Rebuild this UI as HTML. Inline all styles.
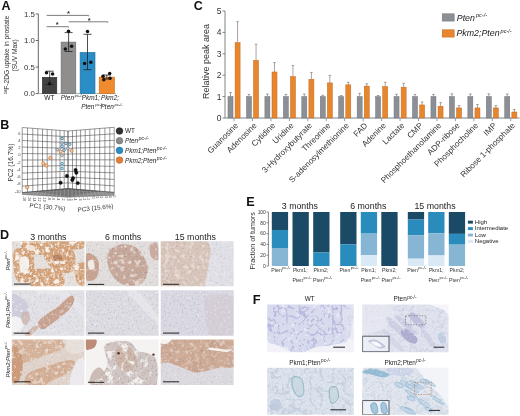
<!DOCTYPE html>
<html><head><meta charset="utf-8"><title>Figure</title>
<style>
html,body{margin:0;padding:0;background:#fff;}
body{width:520px;height:416px;overflow:hidden;}
svg{display:block;font-family:'Liberation Sans', Arial, sans-serif;}
</style></head>
<body>
<svg width="520" height="416" viewBox="0 0 520 416">
<defs>
<filter id="soft" x="-5%" y="-5%" width="110%" height="110%"><feGaussianBlur stdDeviation="0.6"/></filter>
<filter id="holes1" x="0" y="0" width="1" height="1" color-interpolation-filters="sRGB"><feTurbulence type="fractalNoise" baseFrequency="0.22" numOctaves="2" seed="1" result="n"/><feColorMatrix in="n" type="matrix" values="0 0 0 0 0  0 0 0 0 0  0 0 0 0 0  6 0 0 0 -3.6" result="m"/><feComposite in="SourceGraphic" in2="m" operator="in"/></filter>
<filter id="holes2" x="0" y="0" width="1" height="1" color-interpolation-filters="sRGB"><feTurbulence type="fractalNoise" baseFrequency="0.35" numOctaves="2" seed="5" result="n"/><feColorMatrix in="n" type="matrix" values="0 0 0 0 0  0 0 0 0 0  0 0 0 0 0  6 0 0 0 -3.7" result="m"/><feComposite in="SourceGraphic" in2="m" operator="in"/></filter>
<filter id="holes3" x="0" y="0" width="1" height="1" color-interpolation-filters="sRGB"><feTurbulence type="fractalNoise" baseFrequency="0.14" numOctaves="2" seed="9" result="n"/><feColorMatrix in="n" type="matrix" values="0 0 0 0 0  0 0 0 0 0  0 0 0 0 0  6 0 0 0 -3.2" result="m"/><feComposite in="SourceGraphic" in2="m" operator="in"/></filter>
<filter id="spk1" x="0" y="0" width="1" height="1" color-interpolation-filters="sRGB"><feTurbulence type="fractalNoise" baseFrequency="0.75" numOctaves="1" seed="4" result="n"/><feColorMatrix in="n" type="matrix" values="0 0 0 0 0  0 0 0 0 0  0 0 0 0 0  8 0 0 0 -5.1" result="m"/><feComposite in="SourceGraphic" in2="m" operator="in"/></filter>
<filter id="spk2" x="0" y="0" width="1" height="1" color-interpolation-filters="sRGB"><feTurbulence type="fractalNoise" baseFrequency="0.5" numOctaves="2" seed="12" result="n"/><feColorMatrix in="n" type="matrix" values="0 0 0 0 0  0 0 0 0 0  0 0 0 0 0  5 0 0 0 -2.8" result="m"/><feComposite in="SourceGraphic" in2="m" operator="in"/></filter>
<filter id="mot1" x="0" y="0" width="1" height="1" color-interpolation-filters="sRGB"><feTurbulence type="fractalNoise" baseFrequency="0.12" numOctaves="3" seed="3" result="n"/><feColorMatrix in="n" type="matrix" values="0 0 0 0 0  0 0 0 0 0  0 0 0 0 0  3 0 0 0 -1.2" result="m"/><feComposite in="SourceGraphic" in2="m" operator="in"/></filter>
<filter id="fib1" x="0" y="0" width="1" height="1" color-interpolation-filters="sRGB"><feTurbulence type="turbulence" baseFrequency="0.06 0.25" numOctaves="2" seed="6" result="n"/><feColorMatrix in="n" type="matrix" values="0 0 0 0 0  0 0 0 0 0  0 0 0 0 0  -8 0 0 0 1.6" result="m"/><feComposite in="SourceGraphic" in2="m" operator="in"/></filter>
<filter id="net1" x="0" y="0" width="1" height="1" color-interpolation-filters="sRGB"><feTurbulence type="turbulence" baseFrequency="0.12" numOctaves="2" seed="8" result="n"/><feColorMatrix in="n" type="matrix" values="0 0 0 0 0  0 0 0 0 0  0 0 0 0 0  -10 0 0 0 1.8" result="m"/><feComposite in="SourceGraphic" in2="m" operator="in"/></filter>
<filter id="net2" x="0" y="0" width="1" height="1" color-interpolation-filters="sRGB"><feTurbulence type="turbulence" baseFrequency="0.09" numOctaves="2" seed="14" result="n"/><feColorMatrix in="n" type="matrix" values="0 0 0 0 0  0 0 0 0 0  0 0 0 0 0  -9 0 0 0 1.6" result="m"/><feComposite in="SourceGraphic" in2="m" operator="in"/></filter>
<filter id="net3" x="0" y="0" width="1" height="1" color-interpolation-filters="sRGB"><feTurbulence type="turbulence" baseFrequency="0.16" numOctaves="2" seed="21" result="n"/><feColorMatrix in="n" type="matrix" values="0 0 0 0 0  0 0 0 0 0  0 0 0 0 0  -10 0 0 0 1.9" result="m"/><feComposite in="SourceGraphic" in2="m" operator="in"/></filter>
<filter id="holes4" x="0" y="0" width="1" height="1" color-interpolation-filters="sRGB"><feTurbulence type="fractalNoise" baseFrequency="0.2" numOctaves="2" seed="17" result="n"/><feColorMatrix in="n" type="matrix" values="0 0 0 0 0  0 0 0 0 0  0 0 0 0 0  6 0 0 0 -3.3" result="m"/><feComposite in="SourceGraphic" in2="m" operator="in"/></filter>
<filter id="holes5" x="0" y="0" width="1" height="1" color-interpolation-filters="sRGB"><feTurbulence type="fractalNoise" baseFrequency="0.45" numOctaves="2" seed="23" result="n"/><feColorMatrix in="n" type="matrix" values="0 0 0 0 0  0 0 0 0 0  0 0 0 0 0  7 0 0 0 -3.8" result="m"/><feComposite in="SourceGraphic" in2="m" operator="in"/></filter>
</defs>
<rect width="520" height="416" fill="#fff"/>
<text x="1.50" y="9.80" font-size="12.5" font-weight="bold" fill="#111">A</text>
<line x1="38.30" y1="13.95" x2="38.30" y2="93.60" stroke="#555" stroke-width="0.9"/>
<line x1="35.70" y1="13.95" x2="38.30" y2="13.95" stroke="#555" stroke-width="0.9"/>
<text x="34.80" y="16.75" font-size="7.8" text-anchor="end" fill="#333">1.5</text>
<line x1="35.70" y1="40.50" x2="38.30" y2="40.50" stroke="#555" stroke-width="0.9"/>
<text x="34.80" y="43.30" font-size="7.8" text-anchor="end" fill="#333">1.0</text>
<line x1="35.70" y1="67.05" x2="38.30" y2="67.05" stroke="#555" stroke-width="0.9"/>
<text x="34.80" y="69.85" font-size="7.8" text-anchor="end" fill="#333">0.5</text>
<line x1="35.70" y1="93.60" x2="38.30" y2="93.60" stroke="#555" stroke-width="0.9"/>
<text x="34.80" y="96.40" font-size="7.8" text-anchor="end" fill="#333">0.0</text>
<line x1="38.30" y1="93.60" x2="116.00" y2="93.60" stroke="#9aa" stroke-width="0.9"/>
<text transform="translate(9.2,55) rotate(-90)" font-size="6.6" text-anchor="middle" fill="#333"><tspan font-size="4.2" dy="-2">18</tspan><tspan dy="2">F-2DG uptake in prostate</tspan></text>
<text transform="translate(17.4,55.4) rotate(-90)" font-size="6.6" text-anchor="middle" fill="#333">(SUV Max)</text>
<rect x="42.30" y="77.30" width="14.50" height="16.30" fill="#424242" stroke="#2a2a2a" stroke-width="0.6"/>
<rect x="61.10" y="42.09" width="14.70" height="51.51" fill="#8e8e8e" stroke="#6a6a6a" stroke-width="0.6"/>
<rect x="80.10" y="52.39" width="14.90" height="41.21" fill="#2b8dc5" stroke="#1f6f9e" stroke-width="0.6"/>
<rect x="99.20" y="77.14" width="15.20" height="16.46" fill="#ef8a2e" stroke="#c96c1c" stroke-width="0.6"/>
<line x1="49.70" y1="71.20" x2="49.70" y2="84.50" stroke="#222" stroke-width="0.8"/>
<line x1="45.70" y1="71.20" x2="53.70" y2="71.20" stroke="#222" stroke-width="0.8"/>
<line x1="45.70" y1="84.50" x2="53.70" y2="84.50" stroke="#222" stroke-width="0.8"/>
<line x1="68.60" y1="32.60" x2="68.60" y2="51.50" stroke="#222" stroke-width="0.8"/>
<line x1="64.60" y1="32.60" x2="72.60" y2="32.60" stroke="#222" stroke-width="0.8"/>
<line x1="64.60" y1="51.50" x2="72.60" y2="51.50" stroke="#222" stroke-width="0.8"/>
<line x1="87.50" y1="34.30" x2="87.50" y2="69.70" stroke="#222" stroke-width="0.8"/>
<line x1="83.50" y1="34.30" x2="91.50" y2="34.30" stroke="#222" stroke-width="0.8"/>
<line x1="83.50" y1="69.70" x2="91.50" y2="69.70" stroke="#222" stroke-width="0.8"/>
<line x1="106.80" y1="75.00" x2="106.80" y2="79.00" stroke="#222" stroke-width="0.8"/>
<line x1="102.80" y1="75.00" x2="110.80" y2="75.00" stroke="#222" stroke-width="0.8"/>
<line x1="102.80" y1="79.00" x2="110.80" y2="79.00" stroke="#222" stroke-width="0.8"/>
<circle cx="46.50" cy="72.80" r="1.75" fill="#111"/>
<circle cx="52.60" cy="74.00" r="1.75" fill="#111"/>
<circle cx="49.50" cy="83.80" r="1.75" fill="#111"/>
<circle cx="68.50" cy="31.20" r="1.75" fill="#111"/>
<circle cx="71.60" cy="46.20" r="1.75" fill="#111"/>
<circle cx="65.30" cy="49.00" r="1.75" fill="#111"/>
<circle cx="87.50" cy="31.50" r="1.75" fill="#111"/>
<circle cx="84.60" cy="63.50" r="1.75" fill="#111"/>
<circle cx="90.80" cy="62.30" r="1.75" fill="#111"/>
<circle cx="103.00" cy="76.20" r="1.75" fill="#111"/>
<circle cx="109.70" cy="73.50" r="1.75" fill="#111"/>
<circle cx="103.80" cy="79.70" r="1.75" fill="#111"/>
<circle cx="110.00" cy="78.20" r="1.75" fill="#111"/>
<line x1="46.60" y1="15.40" x2="88.60" y2="15.40" stroke="#666" stroke-width="0.85"/>
<line x1="88.60" y1="15.40" x2="88.60" y2="16.40" stroke="#666" stroke-width="0.7"/>
<text x="68.50" y="16.40" font-size="7.5" text-anchor="middle" font-weight="bold" fill="#333">*</text>
<line x1="68.60" y1="21.80" x2="107.80" y2="21.80" stroke="#666" stroke-width="0.85"/>
<line x1="107.80" y1="21.80" x2="107.80" y2="22.80" stroke="#666" stroke-width="0.7"/>
<text x="89.10" y="22.70" font-size="7.5" text-anchor="middle" font-weight="bold" fill="#333">*</text>
<line x1="46.60" y1="26.70" x2="68.40" y2="26.70" stroke="#666" stroke-width="0.85"/>
<line x1="68.40" y1="26.70" x2="68.40" y2="27.70" stroke="#666" stroke-width="0.7"/>
<text x="57.30" y="27.20" font-size="7.5" text-anchor="middle" font-weight="bold" fill="#333">*</text>
<text x="49.30" y="99.80" font-size="6.6" text-anchor="middle" fill="#222">WT</text>
<text x="60.80" y="99.80" font-size="6.4" font-style="italic" fill="#222">Pten<tspan dy="-3.0" dx="0.8" font-size="4.0">pc-/-</tspan></text>
<text x="81.80" y="99.80" font-size="6.4" font-style="italic" fill="#222">Pkm1;</text>
<text x="100.90" y="99.80" font-size="6.4" font-style="italic" fill="#222">Pkm2;</text>
<text x="81.20" y="109.00" font-size="6.4" font-style="italic" fill="#222">Pten<tspan dy="-3.0" dx="0.8" font-size="4.0">pc-/-</tspan></text>
<text x="100.60" y="109.00" font-size="6.4" font-style="italic" fill="#222">Pten<tspan dy="-3.0" dx="0.8" font-size="4.0">pc-/-</tspan></text>
<text x="0.30" y="128.60" font-size="12.5" font-weight="bold" fill="#111">B</text>
<polygon points="22.2,192.6 68.0,188.6 114.2,192.4 114.2,195.2 68.0,197.2 22.2,194.4" fill="#858585" stroke="#555" stroke-width="0.4"/>
<polygon points="34.2,191.55196506550217 68.0,188.6 100.2,191.24848484848485 68.0,196.6" fill="#5e5e5e" opacity="0.7"/>
<line x1="27.71" y1="192.47" x2="24.35" y2="194.43" stroke="#c4c4c4" stroke-width="0.35"/>
<line x1="31.39" y1="192.13" x2="28.34" y2="194.67" stroke="#c4c4c4" stroke-width="0.35"/>
<line x1="35.07" y1="191.80" x2="32.33" y2="194.90" stroke="#c4c4c4" stroke-width="0.35"/>
<line x1="38.75" y1="191.46" x2="36.31" y2="195.14" stroke="#c4c4c4" stroke-width="0.35"/>
<line x1="42.43" y1="191.13" x2="40.30" y2="195.37" stroke="#c4c4c4" stroke-width="0.35"/>
<line x1="46.11" y1="190.79" x2="44.29" y2="195.61" stroke="#c4c4c4" stroke-width="0.35"/>
<line x1="49.79" y1="190.46" x2="48.27" y2="195.84" stroke="#c4c4c4" stroke-width="0.35"/>
<line x1="53.47" y1="190.12" x2="52.26" y2="196.07" stroke="#c4c4c4" stroke-width="0.35"/>
<line x1="57.15" y1="189.79" x2="56.25" y2="196.31" stroke="#c4c4c4" stroke-width="0.35"/>
<line x1="60.83" y1="189.45" x2="60.23" y2="196.54" stroke="#c4c4c4" stroke-width="0.35"/>
<line x1="64.51" y1="189.12" x2="64.22" y2="196.78" stroke="#c4c4c4" stroke-width="0.35"/>
<line x1="68.19" y1="188.82" x2="68.21" y2="196.99" stroke="#c4c4c4" stroke-width="0.35"/>
<line x1="71.87" y1="189.13" x2="72.19" y2="196.83" stroke="#c4c4c4" stroke-width="0.35"/>
<line x1="75.55" y1="189.45" x2="76.18" y2="196.66" stroke="#c4c4c4" stroke-width="0.35"/>
<line x1="79.23" y1="189.76" x2="80.17" y2="196.49" stroke="#c4c4c4" stroke-width="0.35"/>
<line x1="82.91" y1="190.08" x2="84.15" y2="196.33" stroke="#c4c4c4" stroke-width="0.35"/>
<line x1="86.59" y1="190.39" x2="88.14" y2="196.16" stroke="#c4c4c4" stroke-width="0.35"/>
<line x1="90.27" y1="190.71" x2="92.13" y2="196.00" stroke="#c4c4c4" stroke-width="0.35"/>
<line x1="93.95" y1="191.02" x2="96.11" y2="195.83" stroke="#c4c4c4" stroke-width="0.35"/>
<line x1="97.63" y1="191.34" x2="100.10" y2="195.66" stroke="#c4c4c4" stroke-width="0.35"/>
<line x1="101.31" y1="191.65" x2="104.09" y2="195.50" stroke="#c4c4c4" stroke-width="0.35"/>
<line x1="104.99" y1="191.97" x2="108.07" y2="195.33" stroke="#c4c4c4" stroke-width="0.35"/>
<line x1="108.67" y1="192.28" x2="112.06" y2="195.17" stroke="#c4c4c4" stroke-width="0.35"/>
<polyline points="22.2,193.05 68.0,190.75 114.2,193.10" fill="none" stroke="#a8a8a8" stroke-width="0.35"/>
<polyline points="22.2,193.50 68.0,192.90 114.2,193.80" fill="none" stroke="#a8a8a8" stroke-width="0.35"/>
<polyline points="22.2,193.95 68.0,195.05 114.2,194.50" fill="none" stroke="#a8a8a8" stroke-width="0.35"/>
<line x1="22.20" y1="127.50" x2="22.20" y2="192.60" stroke="#444" stroke-width="0.55"/>
<line x1="27.50" y1="127.91" x2="27.50" y2="192.14" stroke="#444" stroke-width="0.55"/>
<line x1="32.80" y1="128.31" x2="32.80" y2="191.67" stroke="#444" stroke-width="0.55"/>
<line x1="37.80" y1="128.69" x2="37.80" y2="191.24" stroke="#444" stroke-width="0.55"/>
<line x1="42.50" y1="129.05" x2="42.50" y2="190.83" stroke="#444" stroke-width="0.55"/>
<line x1="47.20" y1="129.41" x2="47.20" y2="190.42" stroke="#444" stroke-width="0.55"/>
<line x1="51.80" y1="129.76" x2="51.80" y2="190.01" stroke="#444" stroke-width="0.55"/>
<line x1="56.00" y1="130.08" x2="56.00" y2="189.65" stroke="#444" stroke-width="0.55"/>
<line x1="60.00" y1="130.39" x2="60.00" y2="189.30" stroke="#444" stroke-width="0.55"/>
<line x1="64.20" y1="130.71" x2="64.20" y2="188.93" stroke="#444" stroke-width="0.55"/>
<line x1="68.00" y1="131.00" x2="68.00" y2="188.60" stroke="#444" stroke-width="0.55"/>
<line x1="22.20" y1="127.50" x2="68.00" y2="131.00" stroke="#444" stroke-width="0.55"/>
<line x1="22.20" y1="134.01" x2="68.00" y2="136.76" stroke="#444" stroke-width="0.55"/>
<line x1="22.20" y1="140.52" x2="68.00" y2="142.52" stroke="#444" stroke-width="0.55"/>
<line x1="22.20" y1="147.03" x2="68.00" y2="148.28" stroke="#444" stroke-width="0.55"/>
<line x1="22.20" y1="153.54" x2="68.00" y2="154.04" stroke="#444" stroke-width="0.55"/>
<line x1="22.20" y1="160.05" x2="68.00" y2="159.80" stroke="#444" stroke-width="0.55"/>
<line x1="22.20" y1="166.56" x2="68.00" y2="165.56" stroke="#444" stroke-width="0.55"/>
<line x1="22.20" y1="173.07" x2="68.00" y2="171.32" stroke="#444" stroke-width="0.55"/>
<line x1="22.20" y1="179.58" x2="68.00" y2="177.08" stroke="#444" stroke-width="0.55"/>
<line x1="22.20" y1="186.09" x2="68.00" y2="182.84" stroke="#444" stroke-width="0.55"/>
<line x1="22.20" y1="192.60" x2="68.00" y2="188.60" stroke="#444" stroke-width="0.55"/>
<line x1="68.00" y1="131.00" x2="68.00" y2="188.60" stroke="#444" stroke-width="0.55"/>
<line x1="72.50" y1="130.64" x2="72.50" y2="188.97" stroke="#444" stroke-width="0.55"/>
<line x1="76.40" y1="130.33" x2="76.40" y2="189.29" stroke="#444" stroke-width="0.55"/>
<line x1="80.60" y1="129.99" x2="80.60" y2="189.64" stroke="#444" stroke-width="0.55"/>
<line x1="85.20" y1="129.62" x2="85.20" y2="190.01" stroke="#444" stroke-width="0.55"/>
<line x1="89.80" y1="129.25" x2="89.80" y2="190.39" stroke="#444" stroke-width="0.55"/>
<line x1="94.70" y1="128.86" x2="94.70" y2="190.80" stroke="#444" stroke-width="0.55"/>
<line x1="99.70" y1="128.46" x2="99.70" y2="191.21" stroke="#444" stroke-width="0.55"/>
<line x1="104.90" y1="128.04" x2="104.90" y2="191.64" stroke="#444" stroke-width="0.55"/>
<line x1="109.80" y1="127.65" x2="109.80" y2="192.04" stroke="#444" stroke-width="0.55"/>
<line x1="114.20" y1="127.30" x2="114.20" y2="192.40" stroke="#444" stroke-width="0.55"/>
<line x1="68.00" y1="131.00" x2="114.20" y2="127.30" stroke="#444" stroke-width="0.55"/>
<line x1="68.00" y1="136.76" x2="114.20" y2="133.81" stroke="#444" stroke-width="0.55"/>
<line x1="68.00" y1="142.52" x2="114.20" y2="140.32" stroke="#444" stroke-width="0.55"/>
<line x1="68.00" y1="148.28" x2="114.20" y2="146.83" stroke="#444" stroke-width="0.55"/>
<line x1="68.00" y1="154.04" x2="114.20" y2="153.34" stroke="#444" stroke-width="0.55"/>
<line x1="68.00" y1="159.80" x2="114.20" y2="159.85" stroke="#444" stroke-width="0.55"/>
<line x1="68.00" y1="165.56" x2="114.20" y2="166.36" stroke="#444" stroke-width="0.55"/>
<line x1="68.00" y1="171.32" x2="114.20" y2="172.87" stroke="#444" stroke-width="0.55"/>
<line x1="68.00" y1="177.08" x2="114.20" y2="179.38" stroke="#444" stroke-width="0.55"/>
<line x1="68.00" y1="182.84" x2="114.20" y2="185.89" stroke="#444" stroke-width="0.55"/>
<line x1="68.00" y1="188.60" x2="114.20" y2="192.40" stroke="#444" stroke-width="0.55"/>
<text x="20.60" y="134.50" font-size="4.1" text-anchor="end" fill="#444">6</text>
<text x="20.60" y="141.75" font-size="4.1" text-anchor="end" fill="#444">4</text>
<text x="20.60" y="149.00" font-size="4.1" text-anchor="end" fill="#444">2</text>
<text x="20.60" y="156.25" font-size="4.1" text-anchor="end" fill="#444">0</text>
<text x="20.60" y="163.50" font-size="4.1" text-anchor="end" fill="#444">-2</text>
<text x="20.60" y="170.75" font-size="4.1" text-anchor="end" fill="#444">-4</text>
<text x="20.60" y="178.00" font-size="4.1" text-anchor="end" fill="#444">-6</text>
<text x="20.60" y="185.25" font-size="4.1" text-anchor="end" fill="#444">-8</text>
<text x="20.60" y="192.50" font-size="4.1" text-anchor="end" fill="#444">-10</text>
<text transform="translate(13.0,162.5) rotate(-90)" font-size="6.6" text-anchor="middle" fill="#333">PC2 (16.7%)</text>
<text transform="translate(23.20,195.80) rotate(90)" font-size="3.6" fill="#333">-18</text>
<text transform="translate(28.07,196.00) rotate(90)" font-size="3.6" fill="#333">-16</text>
<text transform="translate(32.93,196.20) rotate(90)" font-size="3.6" fill="#333">-14</text>
<text transform="translate(37.80,196.40) rotate(90)" font-size="3.6" fill="#333">-12</text>
<text transform="translate(42.67,196.60) rotate(90)" font-size="3.6" fill="#333">-10</text>
<text transform="translate(47.53,196.80) rotate(90)" font-size="3.6" fill="#333">-8</text>
<text transform="translate(52.40,197.00) rotate(90)" font-size="3.6" fill="#333">-6</text>
<text transform="translate(57.27,197.20) rotate(90)" font-size="3.6" fill="#333">-4</text>
<text transform="translate(62.13,197.40) rotate(90)" font-size="3.6" fill="#333">-2</text>
<text transform="translate(67.00,197.60) rotate(90)" font-size="3.6" fill="#333">-0</text>
<text transform="translate(70.00,197.60) rotate(90)" font-size="3.6" fill="#333">-5</text>
<text transform="translate(74.32,197.40) rotate(90)" font-size="3.6" fill="#333">-4</text>
<text transform="translate(78.64,197.20) rotate(90)" font-size="3.6" fill="#333">-3</text>
<text transform="translate(82.96,197.00) rotate(90)" font-size="3.6" fill="#333">-2</text>
<text transform="translate(87.28,196.80) rotate(90)" font-size="3.6" fill="#333">-1</text>
<text transform="translate(91.60,196.60) rotate(90)" font-size="3.6" fill="#333">0</text>
<text transform="translate(95.92,196.40) rotate(90)" font-size="3.6" fill="#333">1</text>
<text transform="translate(100.24,196.20) rotate(90)" font-size="3.6" fill="#333">2</text>
<text transform="translate(104.56,196.00) rotate(90)" font-size="3.6" fill="#333">3</text>
<text transform="translate(108.88,195.80) rotate(90)" font-size="3.6" fill="#333">4</text>
<text transform="translate(113.20,195.60) rotate(90)" font-size="3.6" fill="#333">5</text>
<text x="29.4" y="209.0" font-size="6.3" fill="#333" transform="rotate(5 47 207)">PC1 (30.7%)</text>
<text x="77.4" y="210.2" font-size="6.3" fill="#333" transform="rotate(-6 94 207)">PC3 (15.6%)</text>
<circle cx="75.60" cy="170.00" r="1.70" fill="#111" stroke="#000" stroke-width="0.4"/>
<circle cx="76.30" cy="172.80" r="1.70" fill="#111" stroke="#000" stroke-width="0.4"/>
<circle cx="66.90" cy="176.00" r="1.70" fill="#111" stroke="#000" stroke-width="0.4"/>
<circle cx="73.10" cy="178.10" r="1.70" fill="#111" stroke="#000" stroke-width="0.4"/>
<circle cx="72.30" cy="180.00" r="1.70" fill="#111" stroke="#000" stroke-width="0.4"/>
<circle cx="60.60" cy="182.80" r="1.70" fill="#111" stroke="#000" stroke-width="0.4"/>
<circle cx="77.80" cy="183.10" r="1.70" fill="#111" stroke="#000" stroke-width="0.4"/>
<circle cx="62.00" cy="138.50" r="1.35" fill="#cfe0e8" stroke="#1e6e80" stroke-width="0.8"/>
<circle cx="62.00" cy="143.00" r="1.35" fill="#cfe0e8" stroke="#6f7f96" stroke-width="0.8"/>
<circle cx="65.90" cy="143.50" r="1.35" fill="#cfe0e8" stroke="#49708f" stroke-width="0.8"/>
<circle cx="69.70" cy="144.20" r="1.35" fill="#cfe0e8" stroke="#49708f" stroke-width="0.8"/>
<circle cx="57.20" cy="149.70" r="1.35" fill="#cfe0e8" stroke="#6a7a90" stroke-width="0.8"/>
<circle cx="64.00" cy="150.20" r="1.35" fill="#cfe0e8" stroke="#40708f" stroke-width="0.8"/>
<circle cx="67.80" cy="148.30" r="1.35" fill="#cfe0e8" stroke="#5c7088" stroke-width="0.8"/>
<circle cx="62.00" cy="155.50" r="1.35" fill="#cfe0e8" stroke="#8a8a80" stroke-width="0.8"/>
<circle cx="62.00" cy="163.60" r="1.35" fill="#cfe0e8" stroke="#2f86b3" stroke-width="0.8"/>
<circle cx="62.00" cy="168.50" r="1.35" fill="#cfe0e8" stroke="#2f86b3" stroke-width="0.8"/>
<circle cx="62.00" cy="146.30" r="1.35" fill="#cfe0e8" stroke="#3a7ca8" stroke-width="0.8"/>
<circle cx="71.60" cy="150.70" r="1.60" fill="#f3d3b3" stroke="#c86f2a" stroke-width="0.8"/>
<circle cx="60.60" cy="151.60" r="1.60" fill="#f3d3b3" stroke="#c86f2a" stroke-width="0.8"/>
<circle cx="50.40" cy="157.80" r="1.60" fill="#f3d3b3" stroke="#c86f2a" stroke-width="0.8"/>
<circle cx="43.30" cy="163.40" r="1.60" fill="#f3d3b3" stroke="#c86f2a" stroke-width="0.8"/>
<circle cx="46.30" cy="165.50" r="1.60" fill="#f3d3b3" stroke="#c86f2a" stroke-width="0.8"/>
<circle cx="27.10" cy="187.30" r="1.60" fill="#f3d3b3" stroke="#c86f2a" stroke-width="0.8"/>
<circle cx="119.50" cy="131.00" r="3.30" fill="#333" stroke="#111" stroke-width="0.6"/>
<text x="125.00" y="133.40" font-size="6.4" fill="#222">WT</text>
<circle cx="119.50" cy="140.70" r="3.30" fill="#8a8a8a" stroke="#666" stroke-width="0.6"/>
<text x="125.00" y="143.10" font-size="6.4" fill="#222"><tspan font-style="italic">Pten</tspan><tspan font-size="5.0" dy="-2.8" dx="0.6" font-style="italic">pc-/-</tspan></text>
<circle cx="119.50" cy="150.40" r="3.30" fill="#2b8dc5" stroke="#1d6a96" stroke-width="0.6"/>
<text x="125.00" y="152.80" font-size="6.4" fill="#222"><tspan font-style="italic">Pkm1;Pten</tspan><tspan font-size="5.0" dy="-2.8" dx="0.6" font-style="italic">pc-/-</tspan></text>
<circle cx="119.50" cy="160.10" r="3.30" fill="#e0803a" stroke="#b86020" stroke-width="0.6"/>
<text x="125.00" y="162.50" font-size="6.4" fill="#222"><tspan font-style="italic">Pkm2;Pten</tspan><tspan font-size="5.0" dy="-2.8" dx="0.6" font-style="italic">pc-/-</tspan></text>
<text x="193.80" y="10.00" font-size="12.5" font-weight="bold" fill="#111">C</text>
<line x1="225.00" y1="11.00" x2="225.00" y2="118.00" stroke="#666" stroke-width="0.8"/>
<line x1="225.00" y1="118.00" x2="519.50" y2="118.00" stroke="#7a8490" stroke-width="1.0"/>
<line x1="222.50" y1="118.00" x2="225.00" y2="118.00" stroke="#666" stroke-width="0.8"/>
<text x="221.40" y="121.00" font-size="8.5" text-anchor="end" fill="#333">0</text>
<line x1="222.50" y1="96.60" x2="225.00" y2="96.60" stroke="#666" stroke-width="0.8"/>
<text x="221.40" y="99.60" font-size="8.5" text-anchor="end" fill="#333">1</text>
<line x1="222.50" y1="75.20" x2="225.00" y2="75.20" stroke="#666" stroke-width="0.8"/>
<text x="221.40" y="78.20" font-size="8.5" text-anchor="end" fill="#333">2</text>
<line x1="222.50" y1="53.80" x2="225.00" y2="53.80" stroke="#666" stroke-width="0.8"/>
<text x="221.40" y="56.80" font-size="8.5" text-anchor="end" fill="#333">3</text>
<line x1="222.50" y1="32.40" x2="225.00" y2="32.40" stroke="#666" stroke-width="0.8"/>
<text x="221.40" y="35.40" font-size="8.5" text-anchor="end" fill="#333">4</text>
<line x1="222.50" y1="11.00" x2="225.00" y2="11.00" stroke="#666" stroke-width="0.8"/>
<text x="221.40" y="14.00" font-size="8.5" text-anchor="end" fill="#333">5</text>
<text transform="translate(208.7,61.6) rotate(-90)" font-size="9" text-anchor="middle" fill="#333">Relative peak area</text>
<line x1="230.50" y1="92.53" x2="230.50" y2="96.60" stroke="#7a7a7a" stroke-width="0.7"/>
<line x1="229.20" y1="92.53" x2="231.80" y2="92.53" stroke="#7a7a7a" stroke-width="0.7"/>
<line x1="237.60" y1="21.70" x2="237.60" y2="42.67" stroke="#8a7a70" stroke-width="0.7"/>
<line x1="236.30" y1="21.70" x2="238.90" y2="21.70" stroke="#8a7a70" stroke-width="0.7"/>
<rect x="228.00" y="96.60" width="5.00" height="21.40" fill="#8c9096" stroke="#6e7278" stroke-width="0.5"/>
<rect x="235.10" y="42.67" width="5.00" height="75.33" fill="#e8862e" stroke="#c0681e" stroke-width="0.5"/>
<line x1="234.00" y1="118.00" x2="234.00" y2="121.20" stroke="#7a8490" stroke-width="0.8"/>
<text transform="translate(238.80,126.00) rotate(-45)" font-size="8.2" text-anchor="end" fill="#333">Guanosine</text>
<line x1="248.95" y1="94.46" x2="248.95" y2="96.60" stroke="#7a7a7a" stroke-width="0.7"/>
<line x1="247.65" y1="94.46" x2="250.25" y2="94.46" stroke="#7a7a7a" stroke-width="0.7"/>
<line x1="256.05" y1="44.17" x2="256.05" y2="60.43" stroke="#8a7a70" stroke-width="0.7"/>
<line x1="254.75" y1="44.17" x2="257.35" y2="44.17" stroke="#8a7a70" stroke-width="0.7"/>
<rect x="246.45" y="96.60" width="5.00" height="21.40" fill="#8c9096" stroke="#6e7278" stroke-width="0.5"/>
<rect x="253.55" y="60.43" width="5.00" height="57.57" fill="#e8862e" stroke="#c0681e" stroke-width="0.5"/>
<line x1="252.45" y1="118.00" x2="252.45" y2="121.20" stroke="#7a8490" stroke-width="0.8"/>
<text transform="translate(257.25,126.00) rotate(-45)" font-size="8.2" text-anchor="end" fill="#333">Adenosine</text>
<line x1="267.40" y1="94.03" x2="267.40" y2="96.60" stroke="#7a7a7a" stroke-width="0.7"/>
<line x1="266.10" y1="94.03" x2="268.70" y2="94.03" stroke="#7a7a7a" stroke-width="0.7"/>
<line x1="274.50" y1="62.57" x2="274.50" y2="71.99" stroke="#8a7a70" stroke-width="0.7"/>
<line x1="273.20" y1="62.57" x2="275.80" y2="62.57" stroke="#8a7a70" stroke-width="0.7"/>
<rect x="264.90" y="96.60" width="5.00" height="21.40" fill="#8c9096" stroke="#6e7278" stroke-width="0.5"/>
<rect x="272.00" y="71.99" width="5.00" height="46.01" fill="#e8862e" stroke="#c0681e" stroke-width="0.5"/>
<line x1="270.90" y1="118.00" x2="270.90" y2="121.20" stroke="#7a8490" stroke-width="0.8"/>
<text transform="translate(275.70,126.00) rotate(-45)" font-size="8.2" text-anchor="end" fill="#333">Cytidine</text>
<line x1="285.85" y1="94.46" x2="285.85" y2="96.60" stroke="#7a7a7a" stroke-width="0.7"/>
<line x1="284.55" y1="94.46" x2="287.15" y2="94.46" stroke="#7a7a7a" stroke-width="0.7"/>
<line x1="292.95" y1="65.57" x2="292.95" y2="76.70" stroke="#8a7a70" stroke-width="0.7"/>
<line x1="291.65" y1="65.57" x2="294.25" y2="65.57" stroke="#8a7a70" stroke-width="0.7"/>
<rect x="283.35" y="96.60" width="5.00" height="21.40" fill="#8c9096" stroke="#6e7278" stroke-width="0.5"/>
<rect x="290.45" y="76.70" width="5.00" height="41.30" fill="#e8862e" stroke="#c0681e" stroke-width="0.5"/>
<line x1="289.35" y1="118.00" x2="289.35" y2="121.20" stroke="#7a8490" stroke-width="0.8"/>
<text transform="translate(294.15,126.00) rotate(-45)" font-size="8.2" text-anchor="end" fill="#333">Uridine</text>
<line x1="304.30" y1="94.03" x2="304.30" y2="96.60" stroke="#7a7a7a" stroke-width="0.7"/>
<line x1="303.00" y1="94.03" x2="305.60" y2="94.03" stroke="#7a7a7a" stroke-width="0.7"/>
<line x1="311.40" y1="72.42" x2="311.40" y2="79.27" stroke="#8a7a70" stroke-width="0.7"/>
<line x1="310.10" y1="72.42" x2="312.70" y2="72.42" stroke="#8a7a70" stroke-width="0.7"/>
<rect x="301.80" y="96.60" width="5.00" height="21.40" fill="#8c9096" stroke="#6e7278" stroke-width="0.5"/>
<rect x="308.90" y="79.27" width="5.00" height="38.73" fill="#e8862e" stroke="#c0681e" stroke-width="0.5"/>
<line x1="307.80" y1="118.00" x2="307.80" y2="121.20" stroke="#7a8490" stroke-width="0.8"/>
<text transform="translate(312.60,126.00) rotate(-45)" font-size="8.2" text-anchor="end" fill="#333">3-Hydroxybutyrate</text>
<line x1="322.75" y1="95.32" x2="322.75" y2="96.60" stroke="#7a7a7a" stroke-width="0.7"/>
<line x1="321.45" y1="95.32" x2="324.05" y2="95.32" stroke="#7a7a7a" stroke-width="0.7"/>
<line x1="329.85" y1="75.41" x2="329.85" y2="82.90" stroke="#8a7a70" stroke-width="0.7"/>
<line x1="328.55" y1="75.41" x2="331.15" y2="75.41" stroke="#8a7a70" stroke-width="0.7"/>
<rect x="320.25" y="96.60" width="5.00" height="21.40" fill="#8c9096" stroke="#6e7278" stroke-width="0.5"/>
<rect x="327.35" y="82.90" width="5.00" height="35.10" fill="#e8862e" stroke="#c0681e" stroke-width="0.5"/>
<line x1="326.25" y1="118.00" x2="326.25" y2="121.20" stroke="#7a8490" stroke-width="0.8"/>
<text transform="translate(331.05,126.00) rotate(-45)" font-size="8.2" text-anchor="end" fill="#333">Threonine</text>
<line x1="341.20" y1="95.53" x2="341.20" y2="96.60" stroke="#7a7a7a" stroke-width="0.7"/>
<line x1="339.90" y1="95.53" x2="342.50" y2="95.53" stroke="#7a7a7a" stroke-width="0.7"/>
<line x1="348.30" y1="82.26" x2="348.30" y2="84.83" stroke="#8a7a70" stroke-width="0.7"/>
<line x1="347.00" y1="82.26" x2="349.60" y2="82.26" stroke="#8a7a70" stroke-width="0.7"/>
<rect x="338.70" y="96.60" width="5.00" height="21.40" fill="#8c9096" stroke="#6e7278" stroke-width="0.5"/>
<rect x="345.80" y="84.83" width="5.00" height="33.17" fill="#e8862e" stroke="#c0681e" stroke-width="0.5"/>
<line x1="344.70" y1="118.00" x2="344.70" y2="121.20" stroke="#7a8490" stroke-width="0.8"/>
<text transform="translate(349.50,126.00) rotate(-45)" font-size="8.2" text-anchor="end" fill="#333">S-adenosylmethionine</text>
<line x1="359.65" y1="93.39" x2="359.65" y2="96.60" stroke="#7a7a7a" stroke-width="0.7"/>
<line x1="358.35" y1="93.39" x2="360.95" y2="93.39" stroke="#7a7a7a" stroke-width="0.7"/>
<line x1="366.75" y1="83.76" x2="366.75" y2="86.11" stroke="#8a7a70" stroke-width="0.7"/>
<line x1="365.45" y1="83.76" x2="368.05" y2="83.76" stroke="#8a7a70" stroke-width="0.7"/>
<rect x="357.15" y="96.60" width="5.00" height="21.40" fill="#8c9096" stroke="#6e7278" stroke-width="0.5"/>
<rect x="364.25" y="86.11" width="5.00" height="31.89" fill="#e8862e" stroke="#c0681e" stroke-width="0.5"/>
<line x1="363.15" y1="118.00" x2="363.15" y2="121.20" stroke="#7a8490" stroke-width="0.8"/>
<text transform="translate(367.95,126.00) rotate(-45)" font-size="8.2" text-anchor="end" fill="#333">FAD</text>
<line x1="378.10" y1="95.53" x2="378.10" y2="96.60" stroke="#7a7a7a" stroke-width="0.7"/>
<line x1="376.80" y1="95.53" x2="379.40" y2="95.53" stroke="#7a7a7a" stroke-width="0.7"/>
<line x1="385.20" y1="82.26" x2="385.20" y2="86.54" stroke="#8a7a70" stroke-width="0.7"/>
<line x1="383.90" y1="82.26" x2="386.50" y2="82.26" stroke="#8a7a70" stroke-width="0.7"/>
<rect x="375.60" y="96.60" width="5.00" height="21.40" fill="#8c9096" stroke="#6e7278" stroke-width="0.5"/>
<rect x="382.70" y="86.54" width="5.00" height="31.46" fill="#e8862e" stroke="#c0681e" stroke-width="0.5"/>
<line x1="381.60" y1="118.00" x2="381.60" y2="121.20" stroke="#7a8490" stroke-width="0.8"/>
<text transform="translate(386.40,126.00) rotate(-45)" font-size="8.2" text-anchor="end" fill="#333">Adenine</text>
<line x1="396.55" y1="94.25" x2="396.55" y2="96.60" stroke="#7a7a7a" stroke-width="0.7"/>
<line x1="395.25" y1="94.25" x2="397.85" y2="94.25" stroke="#7a7a7a" stroke-width="0.7"/>
<line x1="403.65" y1="83.33" x2="403.65" y2="87.18" stroke="#8a7a70" stroke-width="0.7"/>
<line x1="402.35" y1="83.33" x2="404.95" y2="83.33" stroke="#8a7a70" stroke-width="0.7"/>
<rect x="394.05" y="96.60" width="5.00" height="21.40" fill="#8c9096" stroke="#6e7278" stroke-width="0.5"/>
<rect x="401.15" y="87.18" width="5.00" height="30.82" fill="#e8862e" stroke="#c0681e" stroke-width="0.5"/>
<line x1="400.05" y1="118.00" x2="400.05" y2="121.20" stroke="#7a8490" stroke-width="0.8"/>
<text transform="translate(404.85,126.00) rotate(-45)" font-size="8.2" text-anchor="end" fill="#333">Lactate</text>
<line x1="415.00" y1="94.46" x2="415.00" y2="96.60" stroke="#7a7a7a" stroke-width="0.7"/>
<line x1="413.70" y1="94.46" x2="416.30" y2="94.46" stroke="#7a7a7a" stroke-width="0.7"/>
<line x1="422.10" y1="101.95" x2="422.10" y2="104.95" stroke="#8a7a70" stroke-width="0.7"/>
<line x1="420.80" y1="101.95" x2="423.40" y2="101.95" stroke="#8a7a70" stroke-width="0.7"/>
<rect x="412.50" y="96.60" width="5.00" height="21.40" fill="#8c9096" stroke="#6e7278" stroke-width="0.5"/>
<rect x="419.60" y="104.95" width="5.00" height="13.05" fill="#e8862e" stroke="#c0681e" stroke-width="0.5"/>
<line x1="418.50" y1="118.00" x2="418.50" y2="121.20" stroke="#7a8490" stroke-width="0.8"/>
<text transform="translate(423.30,126.00) rotate(-45)" font-size="8.2" text-anchor="end" fill="#333">CMP</text>
<line x1="433.45" y1="94.46" x2="433.45" y2="96.60" stroke="#7a7a7a" stroke-width="0.7"/>
<line x1="432.15" y1="94.46" x2="434.75" y2="94.46" stroke="#7a7a7a" stroke-width="0.7"/>
<line x1="440.55" y1="102.59" x2="440.55" y2="106.23" stroke="#8a7a70" stroke-width="0.7"/>
<line x1="439.25" y1="102.59" x2="441.85" y2="102.59" stroke="#8a7a70" stroke-width="0.7"/>
<rect x="430.95" y="96.60" width="5.00" height="21.40" fill="#8c9096" stroke="#6e7278" stroke-width="0.5"/>
<rect x="438.05" y="106.23" width="5.00" height="11.77" fill="#e8862e" stroke="#c0681e" stroke-width="0.5"/>
<line x1="436.95" y1="118.00" x2="436.95" y2="121.20" stroke="#7a8490" stroke-width="0.8"/>
<text transform="translate(441.75,126.00) rotate(-45)" font-size="8.2" text-anchor="end" fill="#333">Phosphoethanolamine</text>
<line x1="451.90" y1="93.82" x2="451.90" y2="96.60" stroke="#7a7a7a" stroke-width="0.7"/>
<line x1="450.60" y1="93.82" x2="453.20" y2="93.82" stroke="#7a7a7a" stroke-width="0.7"/>
<line x1="459.00" y1="105.59" x2="459.00" y2="107.94" stroke="#8a7a70" stroke-width="0.7"/>
<line x1="457.70" y1="105.59" x2="460.30" y2="105.59" stroke="#8a7a70" stroke-width="0.7"/>
<rect x="449.40" y="96.60" width="5.00" height="21.40" fill="#8c9096" stroke="#6e7278" stroke-width="0.5"/>
<rect x="456.50" y="107.94" width="5.00" height="10.06" fill="#e8862e" stroke="#c0681e" stroke-width="0.5"/>
<line x1="455.40" y1="118.00" x2="455.40" y2="121.20" stroke="#7a8490" stroke-width="0.8"/>
<text transform="translate(460.20,126.00) rotate(-45)" font-size="8.2" text-anchor="end" fill="#333">ADP-ribose</text>
<line x1="470.35" y1="94.03" x2="470.35" y2="96.60" stroke="#7a7a7a" stroke-width="0.7"/>
<line x1="469.05" y1="94.03" x2="471.65" y2="94.03" stroke="#7a7a7a" stroke-width="0.7"/>
<line x1="477.45" y1="104.52" x2="477.45" y2="107.94" stroke="#8a7a70" stroke-width="0.7"/>
<line x1="476.15" y1="104.52" x2="478.75" y2="104.52" stroke="#8a7a70" stroke-width="0.7"/>
<rect x="467.85" y="96.60" width="5.00" height="21.40" fill="#8c9096" stroke="#6e7278" stroke-width="0.5"/>
<rect x="474.95" y="107.94" width="5.00" height="10.06" fill="#e8862e" stroke="#c0681e" stroke-width="0.5"/>
<line x1="473.85" y1="118.00" x2="473.85" y2="121.20" stroke="#7a8490" stroke-width="0.8"/>
<text transform="translate(478.65,126.00) rotate(-45)" font-size="8.2" text-anchor="end" fill="#333">Phosphocholine</text>
<line x1="488.80" y1="93.82" x2="488.80" y2="96.60" stroke="#7a7a7a" stroke-width="0.7"/>
<line x1="487.50" y1="93.82" x2="490.10" y2="93.82" stroke="#7a7a7a" stroke-width="0.7"/>
<line x1="495.90" y1="105.59" x2="495.90" y2="107.94" stroke="#8a7a70" stroke-width="0.7"/>
<line x1="494.60" y1="105.59" x2="497.20" y2="105.59" stroke="#8a7a70" stroke-width="0.7"/>
<rect x="486.30" y="96.60" width="5.00" height="21.40" fill="#8c9096" stroke="#6e7278" stroke-width="0.5"/>
<rect x="493.40" y="107.94" width="5.00" height="10.06" fill="#e8862e" stroke="#c0681e" stroke-width="0.5"/>
<line x1="492.30" y1="118.00" x2="492.30" y2="121.20" stroke="#7a8490" stroke-width="0.8"/>
<text transform="translate(497.10,126.00) rotate(-45)" font-size="8.2" text-anchor="end" fill="#333">IMP</text>
<line x1="507.25" y1="94.03" x2="507.25" y2="96.60" stroke="#7a7a7a" stroke-width="0.7"/>
<line x1="505.95" y1="94.03" x2="508.55" y2="94.03" stroke="#7a7a7a" stroke-width="0.7"/>
<line x1="514.35" y1="109.44" x2="514.35" y2="112.01" stroke="#8a7a70" stroke-width="0.7"/>
<line x1="513.05" y1="109.44" x2="515.65" y2="109.44" stroke="#8a7a70" stroke-width="0.7"/>
<rect x="504.75" y="96.60" width="5.00" height="21.40" fill="#8c9096" stroke="#6e7278" stroke-width="0.5"/>
<rect x="511.85" y="112.01" width="5.00" height="5.99" fill="#e8862e" stroke="#c0681e" stroke-width="0.5"/>
<line x1="510.75" y1="118.00" x2="510.75" y2="121.20" stroke="#7a8490" stroke-width="0.8"/>
<text transform="translate(515.55,126.00) rotate(-45)" font-size="8.2" text-anchor="end" fill="#333">Ribose 1-phosphate</text>
<rect x="442.20" y="13.80" width="12.00" height="7.30" fill="#8c9096" stroke="#6e7278" stroke-width="0.5"/>
<rect x="442.20" y="29.80" width="12.00" height="7.30" fill="#e8862e" stroke="#c0681e" stroke-width="0.5"/>
<text x="456.80" y="20.50" font-size="8.8" font-style="italic" fill="#222">Pten<tspan dy="-3.6" dx="1.0" font-size="5.6">pc-/-</tspan></text>
<text x="456.50" y="36.10" font-size="8.8" font-style="italic" fill="#222">Pkm2;Pten<tspan dy="-3.6" dx="1.0" font-size="5.6">pc-/-</tspan></text>
<text x="246.30" y="205.70" font-size="12.6" font-weight="bold" fill="#111">E</text>
<line x1="268.40" y1="212.00" x2="268.40" y2="266.00" stroke="#555" stroke-width="0.7"/>
<line x1="266.60" y1="266.00" x2="268.40" y2="266.00" stroke="#555" stroke-width="0.7"/>
<text x="265.80" y="267.75" font-size="4.9" text-anchor="end" fill="#333">0</text>
<line x1="266.60" y1="255.20" x2="268.40" y2="255.20" stroke="#555" stroke-width="0.7"/>
<text x="265.80" y="256.95" font-size="4.9" text-anchor="end" fill="#333">20</text>
<line x1="266.60" y1="244.40" x2="268.40" y2="244.40" stroke="#555" stroke-width="0.7"/>
<text x="265.80" y="246.15" font-size="4.9" text-anchor="end" fill="#333">40</text>
<line x1="266.60" y1="233.60" x2="268.40" y2="233.60" stroke="#555" stroke-width="0.7"/>
<text x="265.80" y="235.35" font-size="4.9" text-anchor="end" fill="#333">60</text>
<line x1="266.60" y1="222.80" x2="268.40" y2="222.80" stroke="#555" stroke-width="0.7"/>
<text x="265.80" y="224.55" font-size="4.9" text-anchor="end" fill="#333">80</text>
<line x1="266.60" y1="212.00" x2="268.40" y2="212.00" stroke="#555" stroke-width="0.7"/>
<text x="265.80" y="213.75" font-size="4.9" text-anchor="end" fill="#333">100</text>
<text transform="translate(254.9,240.8) rotate(-90)" font-size="7.1" text-anchor="middle" fill="#333">Fraction of tumors</text>
<rect x="271.80" y="212.00" width="16.30" height="17.98" fill="#1a4a66"/>
<rect x="271.80" y="229.98" width="16.30" height="18.04" fill="#2a8bbd"/>
<rect x="271.80" y="248.02" width="16.30" height="17.98" fill="#86b6d4"/>
<rect x="292.50" y="212.00" width="16.30" height="54.00" fill="#1a4a66"/>
<rect x="313.20" y="212.00" width="16.30" height="40.50" fill="#1a4a66"/>
<rect x="313.20" y="252.50" width="16.30" height="13.50" fill="#2a8bbd"/>
<rect x="340.20" y="212.00" width="16.30" height="32.40" fill="#1a4a66"/>
<rect x="340.20" y="244.40" width="16.30" height="21.60" fill="#2a8bbd"/>
<rect x="360.80" y="212.00" width="16.30" height="21.60" fill="#2a8bbd"/>
<rect x="360.80" y="233.60" width="16.30" height="21.60" fill="#86b6d4"/>
<rect x="360.80" y="255.20" width="16.30" height="10.80" fill="#d9eaf6"/>
<rect x="381.30" y="212.00" width="16.30" height="54.00" fill="#1a4a66"/>
<rect x="407.80" y="212.00" width="16.30" height="7.56" fill="#1a4a66"/>
<rect x="407.80" y="219.56" width="16.30" height="15.66" fill="#2a8bbd"/>
<rect x="407.80" y="235.22" width="16.30" height="23.49" fill="#86b6d4"/>
<rect x="407.80" y="258.71" width="16.30" height="7.29" fill="#d9eaf6"/>
<rect x="428.20" y="212.00" width="16.30" height="21.33" fill="#2a8bbd"/>
<rect x="428.20" y="233.33" width="16.30" height="22.14" fill="#86b6d4"/>
<rect x="428.20" y="255.47" width="16.30" height="10.53" fill="#d9eaf6"/>
<rect x="448.80" y="212.00" width="16.30" height="21.87" fill="#1a4a66"/>
<rect x="448.80" y="233.87" width="16.30" height="10.80" fill="#2a8bbd"/>
<rect x="448.80" y="244.67" width="16.30" height="21.33" fill="#86b6d4"/>
<text x="299.90" y="208.80" font-size="8.8" text-anchor="middle" fill="#222">3 months</text>
<text x="368.30" y="208.80" font-size="8.8" text-anchor="middle" fill="#222">6 months</text>
<text x="435.00" y="208.80" font-size="8.8" text-anchor="middle" fill="#222">15 months</text>
<text x="271.20" y="272.20" font-size="5.2" fill="#333">Pten<tspan dy="-3.0" dx="0.4" font-size="4.0">pc-/-</tspan></text>
<text x="292.90" y="272.20" font-size="5.2" fill="#333">Pkm1;</text>
<text x="292.40" y="281.50" font-size="5.2" fill="#333">Pten<tspan dy="-3.0" dx="0.4" font-size="4.0">pc-/-</tspan></text>
<text x="313.60" y="272.20" font-size="5.2" fill="#333">Pkm2;</text>
<text x="313.10" y="281.50" font-size="5.2" fill="#333">Pten<tspan dy="-3.0" dx="0.4" font-size="4.0">pc-/-</tspan></text>
<text x="339.60" y="272.20" font-size="5.2" fill="#333">Pten<tspan dy="-3.0" dx="0.4" font-size="4.0">pc-/-</tspan></text>
<text x="361.30" y="272.20" font-size="5.2" fill="#333">Pkm1;</text>
<text x="360.80" y="281.50" font-size="5.2" fill="#333">Pten<tspan dy="-3.0" dx="0.4" font-size="4.0">pc-/-</tspan></text>
<text x="382.00" y="272.20" font-size="5.2" fill="#333">Pkm2;</text>
<text x="381.50" y="281.50" font-size="5.2" fill="#333">Pten<tspan dy="-3.0" dx="0.4" font-size="4.0">pc-/-</tspan></text>
<text x="407.20" y="272.20" font-size="5.2" fill="#333">Pten<tspan dy="-3.0" dx="0.4" font-size="4.0">pc-/-</tspan></text>
<text x="428.90" y="272.20" font-size="5.2" fill="#333">Pkm1;</text>
<text x="428.40" y="281.50" font-size="5.2" fill="#333">Pten<tspan dy="-3.0" dx="0.4" font-size="4.0">pc-/-</tspan></text>
<text x="449.60" y="272.20" font-size="5.2" fill="#333">Pkm2;</text>
<text x="449.10" y="281.50" font-size="5.2" fill="#333">Pten<tspan dy="-3.0" dx="0.4" font-size="4.0">pc-/-</tspan></text>
<rect x="467.90" y="220.70" width="5.00" height="2.90" fill="#1a4a66"/>
<text x="474.80" y="224.00" font-size="6.0" fill="#222">High</text>
<rect x="467.90" y="227.15" width="5.00" height="2.90" fill="#2a8bbd"/>
<text x="474.80" y="230.45" font-size="6.0" fill="#222">Intermediate</text>
<rect x="467.90" y="233.60" width="5.00" height="2.90" fill="#86b6d4"/>
<text x="474.80" y="236.90" font-size="6.0" fill="#222">Low</text>
<rect x="467.90" y="240.05" width="5.00" height="2.90" fill="#d9eaf6"/>
<text x="474.80" y="243.35" font-size="6.0" fill="#222">Negative</text>
<text x="0.10" y="238.50" font-size="12.6" font-weight="bold" fill="#111">D</text>
<text x="48.40" y="239.60" font-size="8.8" text-anchor="middle" fill="#222">3 months</text>
<text x="123.10" y="239.60" font-size="8.8" text-anchor="middle" fill="#222">6 months</text>
<text x="195.40" y="239.60" font-size="8.8" text-anchor="middle" fill="#222">15 months</text>
<text transform="translate(9.6,260.8) rotate(-90)" font-size="5.8" font-style="italic" text-anchor="middle" fill="#222">Pten<tspan dy="-2.4" font-size="3.8">pc-/-</tspan></text>
<text transform="translate(9.6,310.0) rotate(-90)" font-size="5.8" font-style="italic" text-anchor="middle" fill="#222">Pkm1;Pten<tspan dy="-2.4" font-size="3.8">pc-/-</tspan></text>
<text transform="translate(9.6,359.4) rotate(-90)" font-size="5.8" font-style="italic" text-anchor="middle" fill="#222">Pkm2;Pten<tspan dy="-2.4" font-size="3.8">pc-/-</tspan></text>
<clipPath id="c11"><rect x="11.8" y="241.3" width="72.7" height="45.0"/></clipPath>
<g clip-path="url(#c11)"><g filter="url(#soft)">
<rect x="10.80" y="240.30" width="74.70" height="47.00" fill="#e6e2e0"/>
<rect x="11.80" y="241.30" width="72.70" height="45.00" fill="#c8c0c0" filter="url(#spk2)" opacity="0.5"/>
<path d="M22.0,240.4 C26.2,238.9 43.5,238.8 48.2,240.4 C52.8,242.1 50.6,247.9 49.6,250.3 C48.6,252.7 45.5,254.2 42.3,254.8 C39.2,255.4 34.0,254.8 30.7,253.9 C27.4,253.0 24.2,251.7 22.7,249.4 C21.3,247.2 17.7,241.9 22.0,240.4Z" fill="#d5a57e"/>
<path d="M14.0,251.2 C15.9,246.9 23.2,248.4 26.3,249.0 C29.5,249.6 31.6,252.0 32.9,254.8 C34.2,257.7 34.6,261.9 34.3,266.1 C34.1,270.2 33.6,276.7 31.4,279.6 C29.2,282.4 24.0,283.9 21.3,283.2 C18.5,282.4 15.9,280.4 14.7,275.1 C13.5,269.7 12.0,255.6 14.0,251.2Z" fill="#d5a57e"/>
<path d="M45.2,250.3 C48.4,248.5 58.0,245.7 62.7,245.8 C67.4,246.0 71.5,247.8 73.6,251.2 C75.7,254.6 75.7,262.4 75.0,266.1 C74.4,269.7 73.2,272.0 70.0,272.8 C66.7,273.6 59.1,272.5 55.4,271.0 C51.8,269.5 50.1,266.2 48.2,263.8 C46.2,261.4 44.3,258.9 43.8,256.6 C43.3,254.4 42.1,252.1 45.2,250.3Z" fill="#d5a57e"/>
<path d="M32.2,270.1 C35.3,268.2 43.3,268.0 48.2,268.3 C53.0,268.6 58.6,269.3 61.2,271.9 C63.9,274.5 65.7,281.3 64.1,284.1 C62.6,286.8 56.9,287.8 51.8,288.6 C46.7,289.3 37.4,290.1 33.6,288.6 C29.9,287.1 29.5,282.6 29.2,279.6 C29.0,276.5 29.0,272.0 32.2,270.1Z" fill="#d5a57e"/>
<path d="M52.5,239.1 C57.0,237.6 77.2,237.6 82.3,239.1 C87.4,240.6 85.1,246.3 83.0,248.1 C81.0,249.8 74.6,249.5 70.0,249.4 C65.4,249.3 58.3,249.3 55.4,247.6 C52.5,245.9 48.0,240.5 52.5,239.1Z" fill="#d5a57e"/>
<path d="M75.0,266.1 C76.5,262.9 84.1,260.8 86.0,263.8 C87.8,266.8 87.4,280.9 86.0,284.1 C84.5,287.2 79.0,285.7 77.2,282.7 C75.4,279.7 73.6,269.2 75.0,266.1Z" fill="#d5a57e"/>
<clipPath id="tp1"><path d="M22.0,240.4 C26.2,238.9 43.5,238.8 48.2,240.4 C52.8,242.1 50.6,247.9 49.6,250.3 C48.6,252.7 45.5,254.2 42.3,254.8 C39.2,255.4 34.0,254.8 30.7,253.9 C27.4,253.0 24.2,251.7 22.7,249.4 C21.3,247.2 17.7,241.9 22.0,240.4Z"/></clipPath>
<g clip-path="url(#tp1)">
<rect x="11.80" y="241.30" width="72.70" height="45.00" fill="#b47a52" filter="url(#spk2)" opacity="0.5"/>
</g>
<clipPath id="tp2"><path d="M22.0,240.4 C26.2,238.9 43.5,238.8 48.2,240.4 C52.8,242.1 50.6,247.9 49.6,250.3 C48.6,252.7 45.5,254.2 42.3,254.8 C39.2,255.4 34.0,254.8 30.7,253.9 C27.4,253.0 24.2,251.7 22.7,249.4 C21.3,247.2 17.7,241.9 22.0,240.4Z"/></clipPath>
<g clip-path="url(#tp2)">
<rect x="11.80" y="241.30" width="72.70" height="45.00" fill="#fbf6f2" filter="url(#holes4)" opacity="0.95"/>
</g>
<clipPath id="tp3"><path d="M22.0,240.4 C26.2,238.9 43.5,238.8 48.2,240.4 C52.8,242.1 50.6,247.9 49.6,250.3 C48.6,252.7 45.5,254.2 42.3,254.8 C39.2,255.4 34.0,254.8 30.7,253.9 C27.4,253.0 24.2,251.7 22.7,249.4 C21.3,247.2 17.7,241.9 22.0,240.4Z"/></clipPath>
<g clip-path="url(#tp3)">
<rect x="11.80" y="241.30" width="72.70" height="45.00" fill="#f8f2ec" filter="url(#holes5)" opacity="0.6"/>
</g>
<clipPath id="tp4"><path d="M14.0,251.2 C15.9,246.9 23.2,248.4 26.3,249.0 C29.5,249.6 31.6,252.0 32.9,254.8 C34.2,257.7 34.6,261.9 34.3,266.1 C34.1,270.2 33.6,276.7 31.4,279.6 C29.2,282.4 24.0,283.9 21.3,283.2 C18.5,282.4 15.9,280.4 14.7,275.1 C13.5,269.7 12.0,255.6 14.0,251.2Z"/></clipPath>
<g clip-path="url(#tp4)">
<rect x="11.80" y="241.30" width="72.70" height="45.00" fill="#b47a52" filter="url(#spk2)" opacity="0.5"/>
</g>
<clipPath id="tp5"><path d="M14.0,251.2 C15.9,246.9 23.2,248.4 26.3,249.0 C29.5,249.6 31.6,252.0 32.9,254.8 C34.2,257.7 34.6,261.9 34.3,266.1 C34.1,270.2 33.6,276.7 31.4,279.6 C29.2,282.4 24.0,283.9 21.3,283.2 C18.5,282.4 15.9,280.4 14.7,275.1 C13.5,269.7 12.0,255.6 14.0,251.2Z"/></clipPath>
<g clip-path="url(#tp5)">
<rect x="11.80" y="241.30" width="72.70" height="45.00" fill="#fbf6f2" filter="url(#holes4)" opacity="0.95"/>
</g>
<clipPath id="tp6"><path d="M14.0,251.2 C15.9,246.9 23.2,248.4 26.3,249.0 C29.5,249.6 31.6,252.0 32.9,254.8 C34.2,257.7 34.6,261.9 34.3,266.1 C34.1,270.2 33.6,276.7 31.4,279.6 C29.2,282.4 24.0,283.9 21.3,283.2 C18.5,282.4 15.9,280.4 14.7,275.1 C13.5,269.7 12.0,255.6 14.0,251.2Z"/></clipPath>
<g clip-path="url(#tp6)">
<rect x="11.80" y="241.30" width="72.70" height="45.00" fill="#f8f2ec" filter="url(#holes5)" opacity="0.6"/>
</g>
<clipPath id="tp7"><path d="M45.2,250.3 C48.4,248.5 58.0,245.7 62.7,245.8 C67.4,246.0 71.5,247.8 73.6,251.2 C75.7,254.6 75.7,262.4 75.0,266.1 C74.4,269.7 73.2,272.0 70.0,272.8 C66.7,273.6 59.1,272.5 55.4,271.0 C51.8,269.5 50.1,266.2 48.2,263.8 C46.2,261.4 44.3,258.9 43.8,256.6 C43.3,254.4 42.1,252.1 45.2,250.3Z"/></clipPath>
<g clip-path="url(#tp7)">
<rect x="11.80" y="241.30" width="72.70" height="45.00" fill="#b47a52" filter="url(#spk2)" opacity="0.5"/>
</g>
<clipPath id="tp8"><path d="M45.2,250.3 C48.4,248.5 58.0,245.7 62.7,245.8 C67.4,246.0 71.5,247.8 73.6,251.2 C75.7,254.6 75.7,262.4 75.0,266.1 C74.4,269.7 73.2,272.0 70.0,272.8 C66.7,273.6 59.1,272.5 55.4,271.0 C51.8,269.5 50.1,266.2 48.2,263.8 C46.2,261.4 44.3,258.9 43.8,256.6 C43.3,254.4 42.1,252.1 45.2,250.3Z"/></clipPath>
<g clip-path="url(#tp8)">
<rect x="11.80" y="241.30" width="72.70" height="45.00" fill="#fbf6f2" filter="url(#holes4)" opacity="0.95"/>
</g>
<clipPath id="tp9"><path d="M45.2,250.3 C48.4,248.5 58.0,245.7 62.7,245.8 C67.4,246.0 71.5,247.8 73.6,251.2 C75.7,254.6 75.7,262.4 75.0,266.1 C74.4,269.7 73.2,272.0 70.0,272.8 C66.7,273.6 59.1,272.5 55.4,271.0 C51.8,269.5 50.1,266.2 48.2,263.8 C46.2,261.4 44.3,258.9 43.8,256.6 C43.3,254.4 42.1,252.1 45.2,250.3Z"/></clipPath>
<g clip-path="url(#tp9)">
<rect x="11.80" y="241.30" width="72.70" height="45.00" fill="#f8f2ec" filter="url(#holes5)" opacity="0.6"/>
</g>
<clipPath id="tp10"><path d="M32.2,270.1 C35.3,268.2 43.3,268.0 48.2,268.3 C53.0,268.6 58.6,269.3 61.2,271.9 C63.9,274.5 65.7,281.3 64.1,284.1 C62.6,286.8 56.9,287.8 51.8,288.6 C46.7,289.3 37.4,290.1 33.6,288.6 C29.9,287.1 29.5,282.6 29.2,279.6 C29.0,276.5 29.0,272.0 32.2,270.1Z"/></clipPath>
<g clip-path="url(#tp10)">
<rect x="11.80" y="241.30" width="72.70" height="45.00" fill="#b47a52" filter="url(#spk2)" opacity="0.5"/>
</g>
<clipPath id="tp11"><path d="M32.2,270.1 C35.3,268.2 43.3,268.0 48.2,268.3 C53.0,268.6 58.6,269.3 61.2,271.9 C63.9,274.5 65.7,281.3 64.1,284.1 C62.6,286.8 56.9,287.8 51.8,288.6 C46.7,289.3 37.4,290.1 33.6,288.6 C29.9,287.1 29.5,282.6 29.2,279.6 C29.0,276.5 29.0,272.0 32.2,270.1Z"/></clipPath>
<g clip-path="url(#tp11)">
<rect x="11.80" y="241.30" width="72.70" height="45.00" fill="#fbf6f2" filter="url(#holes4)" opacity="0.95"/>
</g>
<clipPath id="tp12"><path d="M32.2,270.1 C35.3,268.2 43.3,268.0 48.2,268.3 C53.0,268.6 58.6,269.3 61.2,271.9 C63.9,274.5 65.7,281.3 64.1,284.1 C62.6,286.8 56.9,287.8 51.8,288.6 C46.7,289.3 37.4,290.1 33.6,288.6 C29.9,287.1 29.5,282.6 29.2,279.6 C29.0,276.5 29.0,272.0 32.2,270.1Z"/></clipPath>
<g clip-path="url(#tp12)">
<rect x="11.80" y="241.30" width="72.70" height="45.00" fill="#f8f2ec" filter="url(#holes5)" opacity="0.6"/>
</g>
<clipPath id="tp13"><path d="M52.5,239.1 C57.0,237.6 77.2,237.6 82.3,239.1 C87.4,240.6 85.1,246.3 83.0,248.1 C81.0,249.8 74.6,249.5 70.0,249.4 C65.4,249.3 58.3,249.3 55.4,247.6 C52.5,245.9 48.0,240.5 52.5,239.1Z"/></clipPath>
<g clip-path="url(#tp13)">
<rect x="11.80" y="241.30" width="72.70" height="45.00" fill="#b47a52" filter="url(#spk2)" opacity="0.5"/>
</g>
<clipPath id="tp14"><path d="M52.5,239.1 C57.0,237.6 77.2,237.6 82.3,239.1 C87.4,240.6 85.1,246.3 83.0,248.1 C81.0,249.8 74.6,249.5 70.0,249.4 C65.4,249.3 58.3,249.3 55.4,247.6 C52.5,245.9 48.0,240.5 52.5,239.1Z"/></clipPath>
<g clip-path="url(#tp14)">
<rect x="11.80" y="241.30" width="72.70" height="45.00" fill="#fbf6f2" filter="url(#holes4)" opacity="0.95"/>
</g>
<clipPath id="tp15"><path d="M52.5,239.1 C57.0,237.6 77.2,237.6 82.3,239.1 C87.4,240.6 85.1,246.3 83.0,248.1 C81.0,249.8 74.6,249.5 70.0,249.4 C65.4,249.3 58.3,249.3 55.4,247.6 C52.5,245.9 48.0,240.5 52.5,239.1Z"/></clipPath>
<g clip-path="url(#tp15)">
<rect x="11.80" y="241.30" width="72.70" height="45.00" fill="#f8f2ec" filter="url(#holes5)" opacity="0.6"/>
</g>
<clipPath id="tp16"><path d="M75.0,266.1 C76.5,262.9 84.1,260.8 86.0,263.8 C87.8,266.8 87.4,280.9 86.0,284.1 C84.5,287.2 79.0,285.7 77.2,282.7 C75.4,279.7 73.6,269.2 75.0,266.1Z"/></clipPath>
<g clip-path="url(#tp16)">
<rect x="11.80" y="241.30" width="72.70" height="45.00" fill="#b47a52" filter="url(#spk2)" opacity="0.5"/>
</g>
<clipPath id="tp17"><path d="M75.0,266.1 C76.5,262.9 84.1,260.8 86.0,263.8 C87.8,266.8 87.4,280.9 86.0,284.1 C84.5,287.2 79.0,285.7 77.2,282.7 C75.4,279.7 73.6,269.2 75.0,266.1Z"/></clipPath>
<g clip-path="url(#tp17)">
<rect x="11.80" y="241.30" width="72.70" height="45.00" fill="#fbf6f2" filter="url(#holes4)" opacity="0.95"/>
</g>
<clipPath id="tp18"><path d="M75.0,266.1 C76.5,262.9 84.1,260.8 86.0,263.8 C87.8,266.8 87.4,280.9 86.0,284.1 C84.5,287.2 79.0,285.7 77.2,282.7 C75.4,279.7 73.6,269.2 75.0,266.1Z"/></clipPath>
<g clip-path="url(#tp18)">
<rect x="11.80" y="241.30" width="72.70" height="45.00" fill="#f8f2ec" filter="url(#holes5)" opacity="0.6"/>
</g>
<path d="M19.8,258.4 C20.8,256.2 24.8,255.7 26.3,256.6 C27.9,257.5 29.2,261.0 29.2,263.8 C29.2,266.6 27.8,272.6 26.3,273.7 C24.9,274.8 21.6,272.7 20.5,270.1 C19.4,267.6 18.8,260.7 19.8,258.4Z" fill="#f6f2ee" opacity="0.95"/>
<path d="M26.3,244.9 C27.3,244.2 32.2,244.9 33.6,245.8 C35.1,246.7 36.0,249.6 35.1,250.3 C34.1,251.1 29.2,251.2 27.8,250.3 C26.3,249.4 25.4,245.7 26.3,244.9Z" fill="#f6f2ee" opacity="0.8"/>
<path d="M53.2,255.7 C54.0,254.7 58.2,254.2 59.8,254.8 C61.4,255.4 63.4,258.2 62.7,259.3 C62.0,260.4 57.0,261.7 55.4,261.1 C53.8,260.5 52.5,256.8 53.2,255.7Z" fill="#9a5a38" opacity="0.5"/>
<path d="M34.3,257.5 C35.5,256.1 42.2,257.6 44.5,259.3 C46.8,261.0 49.4,266.1 48.2,267.4 C46.9,268.8 39.5,269.1 37.2,267.4 C34.9,265.8 33.1,258.9 34.3,257.5Z" fill="#e6e0de" opacity="0.9"/>
<rect x="11.80" y="241.30" width="72.70" height="45.00" fill="#8a5a3a" filter="url(#spk1)" opacity="0.2"/>
</g>
<line x1="14.00" y1="284.10" x2="30.40" y2="284.10" stroke="#222" stroke-width="1.0"/>
</g>
<clipPath id="c12"><rect x="85.8" y="241.3" width="72.8" height="45.0"/></clipPath>
<g clip-path="url(#c12)"><g filter="url(#soft)">
<rect x="84.80" y="240.30" width="74.80" height="47.00" fill="#e2dede"/>
<rect x="85.80" y="241.30" width="72.80" height="45.00" fill="#c4bcc0" filter="url(#spk2)" opacity="0.6"/>
<path d="M85.8,254.8 C87.3,251.2 92.4,254.2 94.5,255.7 C96.7,257.2 98.5,260.2 98.9,263.8 C99.3,267.4 98.3,274.4 96.7,277.3 C95.1,280.2 91.3,280.9 89.4,280.9 C87.6,280.9 86.4,281.7 85.8,277.3 C85.2,272.9 84.3,258.4 85.8,254.8Z" fill="#c8a290"/>
<path d="M107.6,252.6 C109.5,249.4 114.3,246.0 118.6,244.9 C122.8,243.8 129.1,244.2 133.1,245.8 C137.1,247.5 140.2,251.1 142.6,254.8 C145.0,258.6 147.7,263.7 147.7,268.3 C147.7,272.9 146.2,279.8 142.6,282.7 C138.9,285.6 130.7,286.3 125.8,285.4 C121.0,284.5 116.5,280.9 113.5,277.3 C110.4,273.7 108.6,267.9 107.6,263.8 C106.7,259.7 105.8,255.7 107.6,252.6Z" fill="#c8aa9c"/>
<path d="M149.9,244.9 C150.8,242.7 155.7,241.2 157.1,243.6 C158.6,246.0 159.6,257.1 158.6,259.3 C157.6,261.6 152.8,259.4 151.3,257.1 C149.9,254.7 148.9,247.2 149.9,244.9Z" fill="#c8aca2"/>
<clipPath id="tp19"><path d="M107.6,252.6 C109.5,249.4 114.3,246.0 118.6,244.9 C122.8,243.8 129.1,244.2 133.1,245.8 C137.1,247.5 140.2,251.1 142.6,254.8 C145.0,258.6 147.7,263.7 147.7,268.3 C147.7,272.9 146.2,279.8 142.6,282.7 C138.9,285.6 130.7,286.3 125.8,285.4 C121.0,284.5 116.5,280.9 113.5,277.3 C110.4,273.7 108.6,267.9 107.6,263.8 C106.7,259.7 105.8,255.7 107.6,252.6Z"/></clipPath>
<g clip-path="url(#tp19)">
<rect x="85.80" y="241.30" width="72.80" height="45.00" fill="#a08884" filter="url(#spk2)" opacity="0.55"/>
</g>
<clipPath id="tp20"><path d="M107.6,252.6 C109.5,249.4 114.3,246.0 118.6,244.9 C122.8,243.8 129.1,244.2 133.1,245.8 C137.1,247.5 140.2,251.1 142.6,254.8 C145.0,258.6 147.7,263.7 147.7,268.3 C147.7,272.9 146.2,279.8 142.6,282.7 C138.9,285.6 130.7,286.3 125.8,285.4 C121.0,284.5 116.5,280.9 113.5,277.3 C110.4,273.7 108.6,267.9 107.6,263.8 C106.7,259.7 105.8,255.7 107.6,252.6Z"/></clipPath>
<g clip-path="url(#tp20)">
<rect x="85.80" y="241.30" width="72.80" height="45.00" fill="#ece4e0" filter="url(#holes4)" opacity="0.75"/>
</g>
<path d="M88.0,261.6 C88.6,260.1 92.0,259.1 93.1,260.2 C94.2,261.3 95.1,266.8 94.5,268.3 C93.9,269.8 90.5,270.3 89.4,269.2 C88.3,268.1 87.4,263.1 88.0,261.6Z" fill="#f0ece8"/>
<rect x="85.80" y="241.30" width="72.80" height="45.00" fill="#eeeaea" filter="url(#holes1)" opacity="0.5"/>
<rect x="85.80" y="241.30" width="72.80" height="45.00" fill="#80706e" filter="url(#spk1)" opacity="0.14"/>
</g>
<line x1="88.00" y1="284.40" x2="104.20" y2="284.40" stroke="#222" stroke-width="1.0"/>
</g>
<clipPath id="c13"><rect x="160.7" y="241.3" width="73.0" height="45.0"/></clipPath>
<g clip-path="url(#c13)"><g filter="url(#soft)">
<rect x="159.70" y="240.30" width="75.00" height="47.00" fill="#e0e0e6"/>
<rect x="160.70" y="241.30" width="73.00" height="45.00" fill="#c8c8d2" filter="url(#spk2)" opacity="0.6"/>
<path d="M157.0,239.1 C164.3,230.8 192.0,237.6 200.8,239.1 C209.7,240.6 209.0,244.3 210.3,248.1 C211.7,251.8 209.6,256.7 208.9,261.6 C208.2,266.4 207.3,272.8 206.0,277.3 C204.6,281.8 209.0,286.7 200.8,288.6 C192.7,290.4 164.3,296.8 157.0,288.6 C149.7,280.3 149.7,247.3 157.0,239.1Z" fill="#d8c6bc"/>
<clipPath id="tp21"><path d="M157.0,239.1 C164.3,230.8 192.0,237.6 200.8,239.1 C209.7,240.6 209.0,244.3 210.3,248.1 C211.7,251.8 209.6,256.7 208.9,261.6 C208.2,266.4 207.3,272.8 206.0,277.3 C204.6,281.8 209.0,286.7 200.8,288.6 C192.7,290.4 164.3,296.8 157.0,288.6 C149.7,280.3 149.7,247.3 157.0,239.1Z"/></clipPath>
<g clip-path="url(#tp21)">
<rect x="160.70" y="241.30" width="73.00" height="45.00" fill="#bea292" filter="url(#spk2)" opacity="0.55"/>
</g>
<clipPath id="tp22"><path d="M157.0,239.1 C164.3,230.8 192.0,237.6 200.8,239.1 C209.7,240.6 209.0,244.3 210.3,248.1 C211.7,251.8 209.6,256.7 208.9,261.6 C208.2,266.4 207.3,272.8 206.0,277.3 C204.6,281.8 209.0,286.7 200.8,288.6 C192.7,290.4 164.3,296.8 157.0,288.6 C149.7,280.3 149.7,247.3 157.0,239.1Z"/></clipPath>
<g clip-path="url(#tp22)">
<rect x="160.70" y="241.30" width="73.00" height="45.00" fill="#eee6e2" filter="url(#holes4)" opacity="0.6"/>
</g>
<rect x="160.70" y="241.30" width="73.00" height="45.00" fill="#f0eff2" filter="url(#holes1)" opacity="0.5"/>
<rect x="160.70" y="241.30" width="73.00" height="45.00" fill="#807478" filter="url(#spk1)" opacity="0.11"/>
</g>
<line x1="163.00" y1="284.30" x2="179.20" y2="284.30" stroke="#222" stroke-width="1.0"/>
</g>
<clipPath id="c21"><rect x="11.8" y="290.3" width="72.7" height="45.4"/></clipPath>
<g clip-path="url(#c21)"><g filter="url(#soft)">
<rect x="10.80" y="289.30" width="74.70" height="47.40" fill="#e2e1e6"/>
<rect x="11.80" y="290.30" width="72.70" height="45.40" fill="#c6c4d0" filter="url(#spk2)" opacity="0.6"/>
<path d="M11.8,295.7 C13.3,292.3 17.9,295.7 20.5,297.1 C23.2,298.5 26.3,301.3 27.8,303.9 C29.2,306.6 30.2,310.7 29.2,313.0 C28.3,315.3 24.9,316.8 22.0,317.5 C19.1,318.3 13.5,321.2 11.8,317.5 C10.1,313.9 10.3,299.2 11.8,295.7Z" fill="#cfccdc"/>
<clipPath id="tp23"><path d="M11.8,295.7 C13.3,292.3 17.9,295.7 20.5,297.1 C23.2,298.5 26.3,301.3 27.8,303.9 C29.2,306.6 30.2,310.7 29.2,313.0 C28.3,315.3 24.9,316.8 22.0,317.5 C19.1,318.3 13.5,321.2 11.8,317.5 C10.1,313.9 10.3,299.2 11.8,295.7Z"/></clipPath>
<g clip-path="url(#tp23)">
<rect x="11.80" y="290.30" width="72.70" height="45.40" fill="#eeeef4" filter="url(#holes1)" opacity="0.8"/>
</g>
<path d="M11.8,317.5 C13.0,315.3 17.1,316.6 19.1,317.5 C21.0,318.4 23.2,320.9 23.4,323.0 C23.7,325.1 22.5,328.9 20.5,330.3 C18.6,331.6 13.3,333.3 11.8,331.2 C10.3,329.0 10.6,319.8 11.8,317.5Z" fill="#f3f3f5"/>
<path d="M33.6,290.3 C36.6,289.7 54.8,288.0 62.7,290.3 C70.6,292.6 77.2,299.4 80.9,303.9 C84.5,308.5 84.9,316.0 84.5,317.5 C84.1,319.1 82.3,316.4 78.7,313.0 C75.0,309.6 68.4,300.3 62.7,297.1 C57.0,293.9 49.4,295.1 44.5,293.9 C39.7,292.8 30.6,290.9 33.6,290.3Z" fill="#ebeaee" opacity="0.6"/>
<path d="M38.0,323.0 C38.2,321.1 40.0,319.6 42.3,317.5 C44.6,315.5 48.6,313.0 51.8,310.7 C54.9,308.5 58.4,306.2 61.2,303.9 C64.0,301.7 66.6,298.5 68.5,297.1 C70.4,295.7 71.9,295.2 72.9,295.7 C73.8,296.3 74.8,298.2 74.3,300.3 C73.8,302.4 71.9,306.0 70.0,308.5 C68.0,311.0 65.4,313.0 62.7,315.3 C60.0,317.5 56.6,320.0 54.0,322.1 C51.3,324.1 48.9,326.4 46.7,327.5 C44.5,328.7 42.3,329.6 40.9,328.9 C39.4,328.1 37.7,324.9 38.0,323.0Z" fill="#caa492"/>
<clipPath id="tp24"><path d="M38.0,323.0 C38.2,321.1 40.0,319.6 42.3,317.5 C44.6,315.5 48.6,313.0 51.8,310.7 C54.9,308.5 58.4,306.2 61.2,303.9 C64.0,301.7 66.6,298.5 68.5,297.1 C70.4,295.7 71.9,295.2 72.9,295.7 C73.8,296.3 74.8,298.2 74.3,300.3 C73.8,302.4 71.9,306.0 70.0,308.5 C68.0,311.0 65.4,313.0 62.7,315.3 C60.0,317.5 56.6,320.0 54.0,322.1 C51.3,324.1 48.9,326.4 46.7,327.5 C44.5,328.7 42.3,329.6 40.9,328.9 C39.4,328.1 37.7,324.9 38.0,323.0Z"/></clipPath>
<g clip-path="url(#tp24)">
<rect x="11.80" y="290.30" width="72.70" height="45.40" fill="#a88070" filter="url(#spk2)" opacity="0.5"/>
</g>
<clipPath id="tp25"><path d="M38.0,323.0 C38.2,321.1 40.0,319.6 42.3,317.5 C44.6,315.5 48.6,313.0 51.8,310.7 C54.9,308.5 58.4,306.2 61.2,303.9 C64.0,301.7 66.6,298.5 68.5,297.1 C70.4,295.7 71.9,295.2 72.9,295.7 C73.8,296.3 74.8,298.2 74.3,300.3 C73.8,302.4 71.9,306.0 70.0,308.5 C68.0,311.0 65.4,313.0 62.7,315.3 C60.0,317.5 56.6,320.0 54.0,322.1 C51.3,324.1 48.9,326.4 46.7,327.5 C44.5,328.7 42.3,329.6 40.9,328.9 C39.4,328.1 37.7,324.9 38.0,323.0Z"/></clipPath>
<g clip-path="url(#tp25)">
<rect x="11.80" y="290.30" width="72.70" height="45.40" fill="#eadcd4" filter="url(#holes2)" opacity="0.7"/>
</g>
<path d="M33.6,326.6 C35.9,325.3 38.7,325.5 38.7,326.6 C38.7,327.8 35.4,331.8 33.6,333.4 C31.8,335.1 29.2,336.4 27.8,336.6 C26.3,336.8 23.9,336.5 24.9,334.8 C25.9,333.1 31.3,328.0 33.6,326.6Z" fill="#cdb0a2" opacity="0.8"/>
<path d="M22.0,313.0 C22.9,311.3 26.5,311.2 27.8,312.1 C29.1,313.0 30.2,316.3 30.0,318.4 C29.7,320.6 27.7,324.2 26.3,324.8 C25.0,325.4 22.7,324.0 22.0,322.1 C21.3,320.1 21.0,314.7 22.0,313.0Z" fill="#cbb2a8" opacity="0.75"/>
<rect x="11.80" y="290.30" width="72.70" height="45.40" fill="#f2f2f4" filter="url(#holes1)" opacity="0.45"/>
<rect x="11.80" y="290.30" width="72.70" height="45.40" fill="#787088" filter="url(#spk1)" opacity="0.11"/>
</g>
<line x1="13.80" y1="333.20" x2="30.00" y2="333.20" stroke="#222" stroke-width="1.0"/>
</g>
<clipPath id="c22"><rect x="85.8" y="290.3" width="72.8" height="45.4"/></clipPath>
<g clip-path="url(#c22)"><g filter="url(#soft)">
<rect x="84.80" y="289.30" width="74.80" height="47.40" fill="#dcdce2"/>
<rect x="85.80" y="290.30" width="72.80" height="45.40" fill="#c0c0cc" filter="url(#spk2)" opacity="0.65"/>
<path d="M125.8,290.3 C122.2,284.6 131.3,285.8 136.8,290.3 C142.2,294.8 155.0,311.9 158.6,317.5 C162.2,323.2 164.1,328.9 158.6,324.4 C153.1,319.8 129.5,296.0 125.8,290.3Z" fill="#eaeaee" opacity="0.7"/>
<rect x="85.80" y="290.30" width="72.80" height="45.40" fill="#eeeef2" filter="url(#holes2)" opacity="0.7"/>
<rect x="85.80" y="290.30" width="72.80" height="45.40" fill="#787890" filter="url(#spk1)" opacity="0.14"/>
</g>
<line x1="88.00" y1="333.10" x2="104.20" y2="333.10" stroke="#222" stroke-width="1.0"/>
</g>
<clipPath id="c23"><rect x="160.7" y="290.3" width="73.0" height="45.4"/></clipPath>
<g clip-path="url(#c23)"><g filter="url(#soft)">
<rect x="159.70" y="289.30" width="75.00" height="47.40" fill="#dad9e2"/>
<rect x="160.70" y="290.30" width="73.00" height="45.40" fill="#bcbccc" filter="url(#spk2)" opacity="0.65"/>
<path d="M206.0,297.1 C209.4,293.3 221.2,293.7 226.4,294.8 C231.6,296.0 235.5,296.7 237.3,303.9 C239.2,311.1 241.6,332.3 237.3,338.0 C233.1,343.6 217.0,341.4 211.8,338.0 C206.6,334.6 206.9,324.4 206.0,317.5 C205.0,310.7 202.6,300.9 206.0,297.1Z" fill="#d4ccd6" opacity="0.9"/>
<rect x="160.70" y="290.30" width="73.00" height="45.40" fill="#ececf2" filter="url(#holes2)" opacity="0.6"/>
<rect x="160.70" y="290.30" width="73.00" height="45.40" fill="#787890" filter="url(#spk1)" opacity="0.14"/>
</g>
<line x1="163.00" y1="333.10" x2="179.20" y2="333.10" stroke="#222" stroke-width="1.0"/>
</g>
<clipPath id="c31"><rect x="11.8" y="339.6" width="72.7" height="45.5"/></clipPath>
<g clip-path="url(#c31)"><g filter="url(#soft)">
<rect x="10.80" y="338.60" width="74.70" height="47.50" fill="#e0d4cc"/>
<rect x="11.80" y="339.60" width="72.70" height="45.50" fill="#cbbab0" filter="url(#spk2)" opacity="0.5"/>
<path d="M11.8,339.6 C20.5,335.4 55.7,338.1 64.1,339.6 C72.6,341.1 66.0,346.0 62.7,348.7 C59.4,351.4 50.6,353.3 44.5,355.5 C38.5,357.8 31.8,360.8 26.3,362.4 C20.9,363.9 14.2,368.4 11.8,364.6 C9.4,360.8 3.1,343.8 11.8,339.6Z" fill="#d6b49c"/>
<path d="M11.8,348.7 C13.3,343.8 18.7,347.9 20.5,351.0 C22.3,354.0 22.9,362.0 22.7,366.9 C22.5,371.8 20.9,378.3 19.1,380.6 C17.3,382.8 13.0,385.9 11.8,380.6 C10.6,375.2 10.3,353.6 11.8,348.7Z" fill="#cc9c7c"/>
<path d="M27.8,373.7 C32.0,369.9 44.8,366.9 51.8,364.6 C58.8,362.4 66.0,360.1 70.0,360.1 C74.0,360.1 76.4,362.4 75.8,364.6 C75.2,366.9 70.3,371.1 66.3,373.7 C62.3,376.4 56.0,378.3 51.8,380.6 C47.5,382.8 45.1,386.2 40.9,387.4 C36.6,388.5 28.5,389.6 26.3,387.4 C24.2,385.1 23.6,377.5 27.8,373.7Z" fill="#d4b098"/>
<path d="M64.1,339.6 C66.6,337.3 81.1,337.7 84.5,339.6 C87.9,341.5 86.9,348.7 84.5,351.0 C82.1,353.2 73.4,355.1 70.0,353.2 C66.6,351.4 61.7,341.9 64.1,339.6Z" fill="#e8e0dc" opacity="0.9"/>
<path d="M75.8,362.4 C78.2,358.2 83.0,356.3 84.5,360.1 C86.0,363.9 86.9,380.9 84.5,385.1 C82.1,389.3 71.4,388.9 70.0,385.1 C68.5,381.3 73.4,366.5 75.8,362.4Z" fill="#eceaee"/>
<clipPath id="tp26"><path d="M11.8,339.6 C20.5,335.4 55.7,338.1 64.1,339.6 C72.6,341.1 66.0,346.0 62.7,348.7 C59.4,351.4 50.6,353.3 44.5,355.5 C38.5,357.8 31.8,360.8 26.3,362.4 C20.9,363.9 14.2,368.4 11.8,364.6 C9.4,360.8 3.1,343.8 11.8,339.6Z"/></clipPath>
<g clip-path="url(#tp26)">
<rect x="11.80" y="339.60" width="72.70" height="45.50" fill="#b89480" filter="url(#spk2)" opacity="0.5"/>
</g>
<clipPath id="tp27"><path d="M27.8,373.7 C32.0,369.9 44.8,366.9 51.8,364.6 C58.8,362.4 66.0,360.1 70.0,360.1 C74.0,360.1 76.4,362.4 75.8,364.6 C75.2,366.9 70.3,371.1 66.3,373.7 C62.3,376.4 56.0,378.3 51.8,380.6 C47.5,382.8 45.1,386.2 40.9,387.4 C36.6,388.5 28.5,389.6 26.3,387.4 C24.2,385.1 23.6,377.5 27.8,373.7Z"/></clipPath>
<g clip-path="url(#tp27)">
<rect x="11.80" y="339.60" width="72.70" height="45.50" fill="#b89480" filter="url(#spk2)" opacity="0.5"/>
</g>
<clipPath id="tp28"><path d="M11.8,339.6 C20.5,335.4 55.7,338.1 64.1,339.6 C72.6,341.1 66.0,346.0 62.7,348.7 C59.4,351.4 50.6,353.3 44.5,355.5 C38.5,357.8 31.8,360.8 26.3,362.4 C20.9,363.9 14.2,368.4 11.8,364.6 C9.4,360.8 3.1,343.8 11.8,339.6Z"/></clipPath>
<g clip-path="url(#tp28)">
<rect x="11.80" y="339.60" width="72.70" height="45.50" fill="#f2e8e2" filter="url(#holes4)" opacity="0.6"/>
</g>
<clipPath id="tp29"><path d="M27.8,373.7 C32.0,369.9 44.8,366.9 51.8,364.6 C58.8,362.4 66.0,360.1 70.0,360.1 C74.0,360.1 76.4,362.4 75.8,364.6 C75.2,366.9 70.3,371.1 66.3,373.7 C62.3,376.4 56.0,378.3 51.8,380.6 C47.5,382.8 45.1,386.2 40.9,387.4 C36.6,388.5 28.5,389.6 26.3,387.4 C24.2,385.1 23.6,377.5 27.8,373.7Z"/></clipPath>
<g clip-path="url(#tp29)">
<rect x="11.80" y="339.60" width="72.70" height="45.50" fill="#f2e8e2" filter="url(#holes4)" opacity="0.6"/>
</g>
<rect x="11.80" y="339.60" width="72.70" height="45.50" fill="#f2ece8" filter="url(#holes2)" opacity="0.6"/>
<rect x="11.80" y="339.60" width="72.70" height="45.50" fill="#8a6a5a" filter="url(#spk1)" opacity="0.11"/>
</g>
<line x1="14.30" y1="381.80" x2="30.50" y2="381.80" stroke="#222" stroke-width="1.0"/>
</g>
<clipPath id="c32"><rect x="85.8" y="339.6" width="72.8" height="45.5"/></clipPath>
<g clip-path="url(#c32)"><g filter="url(#soft)">
<rect x="84.80" y="338.60" width="74.80" height="47.50" fill="#f4f3f2"/>
<path d="M85.8,339.6 C87.5,338.1 94.4,338.5 96.0,339.6 C97.6,340.7 96.4,344.8 95.3,346.4 C94.2,348.1 91.0,349.2 89.4,349.6 C87.9,350.0 86.4,350.4 85.8,348.7 C85.2,347.0 84.1,341.1 85.8,339.6Z" fill="#bc8c78"/>
<path d="M104.0,346.4 C105.0,343.0 109.2,342.6 113.5,341.9 C117.7,341.1 125.4,340.4 129.5,341.9 C133.6,343.4 135.2,349.1 138.2,351.0 C141.2,352.9 144.6,351.7 147.7,353.2 C150.7,354.8 154.8,355.5 156.4,360.1 C158.0,364.6 158.0,376.0 157.1,380.6 C156.3,385.1 159.6,386.2 151.3,387.4 C143.1,388.5 117.1,388.1 107.6,387.4 C98.2,386.6 95.1,385.5 94.5,382.8 C93.9,380.2 101.8,374.9 104.0,371.5 C106.2,368.0 107.6,366.5 107.6,362.4 C107.6,358.2 103.0,349.8 104.0,346.4Z" fill="#d0c6c4"/>
<path d="M116.4,348.7 C118.6,346.3 126.1,345.5 129.5,347.8 C132.9,350.1 137.4,358.4 136.8,362.4 C136.2,366.3 129.2,371.5 125.8,371.5 C122.4,371.5 118.0,366.1 116.4,362.4 C114.8,358.6 114.2,351.1 116.4,348.7Z" fill="#cdb6aa"/>
<path d="M93.1,371.5 C94.9,368.9 98.2,366.7 100.4,367.8 C102.5,368.9 106.8,375.2 106.2,378.3 C105.6,381.3 99.5,385.3 96.7,386.0 C93.9,386.8 90.0,385.3 89.4,382.8 C88.8,380.4 91.3,374.0 93.1,371.5Z" fill="#ccbcb6"/>
<clipPath id="tp30"><path d="M104.0,346.4 C105.0,343.0 109.2,342.6 113.5,341.9 C117.7,341.1 125.4,340.4 129.5,341.9 C133.6,343.4 135.2,349.1 138.2,351.0 C141.2,352.9 144.6,351.7 147.7,353.2 C150.7,354.8 154.8,355.5 156.4,360.1 C158.0,364.6 158.0,376.0 157.1,380.6 C156.3,385.1 159.6,386.2 151.3,387.4 C143.1,388.5 117.1,388.1 107.6,387.4 C98.2,386.6 95.1,385.5 94.5,382.8 C93.9,380.2 101.8,374.9 104.0,371.5 C106.2,368.0 107.6,366.5 107.6,362.4 C107.6,358.2 103.0,349.8 104.0,346.4Z"/></clipPath>
<g clip-path="url(#tp30)">
<rect x="85.80" y="339.60" width="72.80" height="45.50" fill="#f6f4f2" filter="url(#holes3)" opacity="0.9"/>
</g>
<clipPath id="tp31"><path d="M104.0,346.4 C105.0,343.0 109.2,342.6 113.5,341.9 C117.7,341.1 125.4,340.4 129.5,341.9 C133.6,343.4 135.2,349.1 138.2,351.0 C141.2,352.9 144.6,351.7 147.7,353.2 C150.7,354.8 154.8,355.5 156.4,360.1 C158.0,364.6 158.0,376.0 157.1,380.6 C156.3,385.1 159.6,386.2 151.3,387.4 C143.1,388.5 117.1,388.1 107.6,387.4 C98.2,386.6 95.1,385.5 94.5,382.8 C93.9,380.2 101.8,374.9 104.0,371.5 C106.2,368.0 107.6,366.5 107.6,362.4 C107.6,358.2 103.0,349.8 104.0,346.4Z"/></clipPath>
<g clip-path="url(#tp31)">
<rect x="85.80" y="339.60" width="72.80" height="45.50" fill="#9a8680" filter="url(#spk2)" opacity="0.45"/>
</g>
<circle cx="118.56" cy="353.25" r="1.30" fill="#553322"/>
<circle cx="153.50" cy="354.62" r="1.20" fill="#553322"/>
</g>
<line x1="88.00" y1="382.30" x2="104.20" y2="382.30" stroke="#222" stroke-width="1.0"/>
</g>
<clipPath id="c33"><rect x="160.7" y="339.6" width="73.0" height="45.5"/></clipPath>
<g clip-path="url(#c33)"><g filter="url(#soft)">
<rect x="159.70" y="338.60" width="75.00" height="47.50" fill="#dcdadf"/>
<rect x="160.70" y="339.60" width="73.00" height="45.50" fill="#c4c2ca" filter="url(#spk2)" opacity="0.6"/>
<path d="M157.0,337.3 C170.4,333.2 224.0,332.8 237.3,337.3 C250.7,341.9 240.4,359.5 237.3,364.6 C234.3,369.7 225.8,366.5 219.1,367.8 C212.4,369.1 203.3,372.4 197.2,372.4 C191.1,372.4 187.5,369.5 182.6,367.8 C177.7,366.1 172.3,363.3 168.0,362.4 C163.7,361.4 158.9,366.5 157.0,362.4 C155.2,358.2 143.7,341.5 157.0,337.3Z" fill="#d0ae9a"/>
<clipPath id="tp32"><path d="M157.0,337.3 C170.4,333.2 224.0,332.8 237.3,337.3 C250.7,341.9 240.4,359.5 237.3,364.6 C234.3,369.7 225.8,366.5 219.1,367.8 C212.4,369.1 203.3,372.4 197.2,372.4 C191.1,372.4 187.5,369.5 182.6,367.8 C177.7,366.1 172.3,363.3 168.0,362.4 C163.7,361.4 158.9,366.5 157.0,362.4 C155.2,358.2 143.7,341.5 157.0,337.3Z"/></clipPath>
<g clip-path="url(#tp32)">
<rect x="160.70" y="339.60" width="73.00" height="45.50" fill="#c09c8a" filter="url(#mot1)" opacity="0.6"/>
</g>
<clipPath id="tp33"><path d="M157.0,337.3 C170.4,333.2 224.0,332.8 237.3,337.3 C250.7,341.9 240.4,359.5 237.3,364.6 C234.3,369.7 225.8,366.5 219.1,367.8 C212.4,369.1 203.3,372.4 197.2,372.4 C191.1,372.4 187.5,369.5 182.6,367.8 C177.7,366.1 172.3,363.3 168.0,362.4 C163.7,361.4 158.9,366.5 157.0,362.4 C155.2,358.2 143.7,341.5 157.0,337.3Z"/></clipPath>
<g clip-path="url(#tp33)">
<rect x="160.70" y="339.60" width="73.00" height="45.50" fill="#b09080" filter="url(#spk2)" opacity="0.4"/>
</g>
<clipPath id="tp34"><path d="M157.0,337.3 C170.4,333.2 224.0,332.8 237.3,337.3 C250.7,341.9 240.4,359.5 237.3,364.6 C234.3,369.7 225.8,366.5 219.1,367.8 C212.4,369.1 203.3,372.4 197.2,372.4 C191.1,372.4 187.5,369.5 182.6,367.8 C177.7,366.1 172.3,363.3 168.0,362.4 C163.7,361.4 158.9,366.5 157.0,362.4 C155.2,358.2 143.7,341.5 157.0,337.3Z"/></clipPath>
<g clip-path="url(#tp34)">
<rect x="160.70" y="339.60" width="73.00" height="45.50" fill="#eadcd4" filter="url(#holes4)" opacity="0.5"/>
</g>
<path d="M210.3,347.8 C213.0,347.7 222.7,349.5 226.4,349.6 C230.0,349.8 232.2,348.3 232.2,348.7 C232.2,349.1 230.0,351.7 226.4,351.9 C222.7,352.1 213.0,350.7 210.3,350.1 C207.7,349.4 207.7,347.9 210.3,347.8Z" fill="#f6f2f0"/>
<path d="M160.7,337.3 C162.5,336.3 170.4,336.3 171.6,337.3 C172.9,338.3 169.8,342.3 168.0,343.2 C166.2,344.2 161.9,344.2 160.7,343.2 C159.5,342.3 158.9,338.3 160.7,337.3Z" fill="#f6f2f0"/>
<rect x="160.70" y="339.60" width="73.00" height="45.50" fill="#f0eef0" filter="url(#holes2)" opacity="0.5"/>
<rect x="160.70" y="339.60" width="73.00" height="45.50" fill="#806a66" filter="url(#spk1)" opacity="0.11"/>
</g>
<line x1="163.00" y1="381.80" x2="179.20" y2="381.80" stroke="#222" stroke-width="1.0"/>
</g>
<text x="252.80" y="303.70" font-size="12.9" font-weight="bold" fill="#111">F</text>
<text x="309.80" y="301.40" font-size="6.4" text-anchor="middle" fill="#222">WT</text>
<text x="405.00" y="301.40" font-size="6.4" text-anchor="middle" fill="#222">Pten<tspan dy="-2.8" dx="0.5" font-size="4.6">pc-/-</tspan></text>
<text x="309.80" y="364.80" font-size="6.4" text-anchor="middle" fill="#222">Pkm1;Pten<tspan dy="-2.8" dx="0.5" font-size="4.6">pc-/-</tspan></text>
<text x="405.00" y="364.80" font-size="6.4" text-anchor="middle" fill="#222">Pkm2;Pten<tspan dy="-2.8" dx="0.5" font-size="4.6">pc-/-</tspan></text>
<clipPath id="c41"><rect x="267.2" y="304.6" width="86.6" height="47.6"/></clipPath>
<g clip-path="url(#c41)"><g filter="url(#soft)">
<rect x="266.20" y="303.60" width="88.60" height="49.60" fill="#f2f2f8"/>
<path d="M267.2,304.6 C274.4,298.7 296.1,303.6 310.5,303.6 C324.9,303.6 346.9,301.3 353.8,304.6 C360.7,307.9 353.1,317.7 352.1,323.6 C351.1,329.6 351.1,336.7 347.7,340.3 C344.4,343.9 337.6,343.9 332.1,345.1 C326.7,346.2 320.6,346.1 314.8,347.4 C309.1,348.8 303.7,353.5 297.5,353.2 C291.3,352.8 282.6,347.4 277.6,345.1 C272.5,342.7 268.9,345.6 267.2,338.9 C265.5,332.1 260.0,310.5 267.2,304.6Z" fill="#d8daee"/>
<clipPath id="tp35"><path d="M267.2,304.6 C274.4,298.7 296.1,303.6 310.5,303.6 C324.9,303.6 346.9,301.3 353.8,304.6 C360.7,307.9 353.1,317.7 352.1,323.6 C351.1,329.6 351.1,336.7 347.7,340.3 C344.4,343.9 337.6,343.9 332.1,345.1 C326.7,346.2 320.6,346.1 314.8,347.4 C309.1,348.8 303.7,353.5 297.5,353.2 C291.3,352.8 282.6,347.4 277.6,345.1 C272.5,342.7 268.9,345.6 267.2,338.9 C265.5,332.1 260.0,310.5 267.2,304.6Z"/></clipPath>
<g clip-path="url(#tp35)">
<rect x="267.20" y="304.60" width="86.60" height="47.60" fill="#a2a6d2" filter="url(#net1)" opacity="0.6"/>
</g>
<clipPath id="tp36"><path d="M267.2,304.6 C274.4,298.7 296.1,303.6 310.5,303.6 C324.9,303.6 346.9,301.3 353.8,304.6 C360.7,307.9 353.1,317.7 352.1,323.6 C351.1,329.6 351.1,336.7 347.7,340.3 C344.4,343.9 337.6,343.9 332.1,345.1 C326.7,346.2 320.6,346.1 314.8,347.4 C309.1,348.8 303.7,353.5 297.5,353.2 C291.3,352.8 282.6,347.4 277.6,345.1 C272.5,342.7 268.9,345.6 267.2,338.9 C265.5,332.1 260.0,310.5 267.2,304.6Z"/></clipPath>
<g clip-path="url(#tp36)">
<rect x="267.20" y="304.60" width="86.60" height="47.60" fill="#f2f2fa" filter="url(#holes1)" opacity="0.65"/>
</g>
<path d="M343.4,309.4 C345.1,305.0 353.5,302.2 355.5,307.0 C357.6,311.7 357.3,333.6 355.5,337.9 C353.8,342.3 347.2,337.9 345.1,333.2 C343.1,328.4 341.7,313.7 343.4,309.4Z" fill="#e4e6f2" opacity="0.6"/>
<rect x="267.20" y="304.60" width="86.60" height="47.60" fill="#7c80b0" filter="url(#spk1)" opacity="0.09"/>
</g>
<line x1="333.20" y1="347.20" x2="345.00" y2="347.20" stroke="#222" stroke-width="1.0"/>
</g>
<clipPath id="c42"><rect x="362.2" y="304.6" width="86.3" height="47.6"/></clipPath>
<g clip-path="url(#c42)"><g filter="url(#soft)">
<rect x="361.20" y="303.60" width="88.30" height="49.60" fill="#e0e2ee"/>
<rect x="362.20" y="304.60" width="86.30" height="47.60" fill="#c6c9de" filter="url(#spk2)" opacity="0.6"/>
<rect x="362.20" y="304.60" width="86.30" height="47.60" fill="#babed8" filter="url(#net2)" opacity="0.3"/>
<path d="M426.9,302.2 C428.4,300.9 448.5,299.4 452.8,302.2 C457.1,305.0 454.3,317.5 452.8,318.9 C451.4,320.2 448.5,313.1 444.2,310.3 C439.9,307.5 425.5,303.6 426.9,302.2Z" fill="#f6f6fa"/>
<path d="M362.2,304.6 C366.5,299.8 383.1,302.2 388.1,304.6 C393.1,307.0 393.8,314.5 392.4,318.9 C391.0,323.2 384.5,328.4 379.5,330.8 C374.4,333.2 365.1,337.5 362.2,333.2 C359.3,328.8 357.9,309.4 362.2,304.6Z" fill="#e8eaf2" opacity="0.6"/>
<path d="M386.6,320.4 C387.7,322.8 393.0,328.3 396.6,331.9 C400.2,335.5 405.7,340.7 408.1,341.8 C410.6,343.0 412.3,341.2 411.2,338.8 C410.0,336.3 404.8,330.9 401.2,327.3 C397.6,323.7 392.0,318.5 389.6,317.3 C387.2,316.2 385.4,318.0 386.6,320.4Z" fill="#c8cae0" opacity="0.8"/>
<path d="M395.6,317.8 C396.7,319.7 401.3,324.0 404.5,326.8 C407.7,329.6 412.5,333.6 414.6,334.5 C416.6,335.3 418.0,333.8 416.8,331.9 C415.7,329.9 411.1,325.7 407.9,322.9 C404.8,320.1 399.9,316.1 397.9,315.2 C395.8,314.4 394.5,315.9 395.6,317.8Z" fill="#c4c6de" opacity="0.7"/>
<path d="M400.8,333.1 C401.1,335.0 404.2,337.9 406.3,339.7 C408.5,341.5 411.9,344.1 413.8,344.0 C415.6,344.0 417.9,341.3 417.7,339.4 C417.4,337.5 414.3,334.6 412.2,332.8 C410.0,331.0 406.6,328.4 404.7,328.5 C402.8,328.5 400.5,331.2 400.8,333.1Z" fill="#a8a8cc" opacity="0.9"/>
<path d="M408.7,316.0 C409.0,317.7 411.8,320.9 413.8,322.8 C415.9,324.8 419.0,327.6 420.8,327.9 C422.6,328.1 424.7,325.9 424.4,324.2 C424.2,322.4 421.3,319.3 419.3,317.3 C417.3,315.3 414.1,312.5 412.3,312.3 C410.6,312.1 408.5,314.2 408.7,316.0Z" fill="#b8bad8" opacity="0.8"/>
<path d="M382.5,331.9 C383.4,334.0 387.6,338.9 390.5,342.0 C393.4,345.2 397.8,349.9 399.8,351.0 C401.7,352.1 403.2,350.7 402.3,348.7 C401.4,346.6 397.2,341.7 394.3,338.6 C391.4,335.4 387.0,330.7 385.1,329.6 C383.1,328.5 381.6,329.9 382.5,331.9Z" fill="#d0d2e6" opacity="0.7"/>
<path d="M421.2,331.8 C421.8,333.7 424.9,337.9 427.0,340.7 C429.2,343.5 432.5,347.6 434.2,348.5 C435.8,349.4 437.4,348.2 436.9,346.4 C436.4,344.6 433.3,340.3 431.1,337.5 C429.0,334.7 425.6,330.7 424.0,329.7 C422.3,328.8 420.7,330.0 421.2,331.8Z" fill="#c8cce0" opacity="0.7"/>
<path d="M438.1,334.1 C438.9,332.5 442.9,331.9 444.2,333.2 C445.5,334.4 446.6,340.1 445.9,341.7 C445.2,343.3 441.2,343.9 439.9,342.7 C438.6,341.4 437.4,335.7 438.1,334.1Z" fill="#b4c8dc" opacity="0.7"/>
<rect x="362.20" y="304.60" width="86.30" height="47.60" fill="#f0f2f8" filter="url(#holes2)" opacity="0.55"/>
<rect x="362.60" y="336.20" width="26.40" height="15.60" fill="#eceef6" stroke="#4a4e5a" stroke-width="0.9"/>
<path d="M368.2,340.8 C368.8,340.0 373.1,338.9 376.0,339.8 C378.9,340.8 384.9,345.1 385.5,346.5 C386.1,347.9 381.6,348.7 379.5,348.4 C377.3,348.1 374.4,345.9 372.6,344.6 C370.7,343.3 367.7,341.6 368.2,340.8Z" fill="#c2c6de"/>
<path d="M370.8,342.2 C370.5,341.4 374.1,341.1 376.0,341.7 C377.9,342.4 381.8,345.2 382.0,346.0 C382.3,346.8 379.6,347.1 377.7,346.5 C375.9,345.9 371.1,343.0 370.8,342.2Z" fill="#f8f8fc"/>
<rect x="405.5" y="315.8" width="20.3" height="9.0" fill="none" stroke="#666" stroke-width="0.6" stroke-dasharray="1.5,1.2"/>
</g>
<line x1="433.70" y1="347.20" x2="444.40" y2="347.20" stroke="#222" stroke-width="1.0"/>
</g>
<clipPath id="c43"><rect x="267.2" y="367.8" width="86.6" height="47.0"/></clipPath>
<g clip-path="url(#c43)"><g filter="url(#soft)">
<rect x="266.20" y="366.80" width="88.60" height="49.00" fill="#dce2ec"/>
<rect x="267.20" y="367.80" width="86.60" height="47.00" fill="#bcc8d8" filter="url(#spk2)" opacity="0.6"/>
<rect x="267.20" y="367.80" width="86.60" height="47.00" fill="#aebcd0" filter="url(#net2)" opacity="0.4"/>
<rect x="267.20" y="367.80" width="86.60" height="47.00" fill="#eef2f6" filter="url(#holes2)" opacity="0.7"/>
<path d="M293.2,377.2 C294.8,376.0 300.1,376.8 301.8,379.6 C303.6,382.3 304.3,390.9 303.6,393.7 C302.9,396.4 299.4,397.2 297.5,396.0 C295.6,394.8 293.0,389.7 292.3,386.6 C291.6,383.5 291.6,378.4 293.2,377.2Z" fill="#c8d8e0" opacity="0.8" stroke="#7aa8b8" stroke-width="1.0"/>
<path d="M329.6,388.9 C330.4,386.4 335.0,386.0 336.5,387.5 C337.9,389.1 339.1,395.8 338.2,398.4 C337.3,400.9 332.7,404.6 331.3,403.1 C329.8,401.5 328.7,391.5 329.6,388.9Z" fill="#c8d8e0" opacity="0.8" stroke="#7aa8b8" stroke-width="1.0"/>
<path d="M270.7,400.7 C272.0,399.0 277.6,398.3 279.3,399.8 C281.1,401.2 282.4,407.4 281.1,409.2 C279.8,410.9 273.3,411.5 271.5,410.1 C269.8,408.7 269.4,402.4 270.7,400.7Z" fill="#b8c4d8" opacity="0.6"/>
<rect x="267.20" y="367.80" width="86.60" height="47.00" fill="#7890a8" filter="url(#spk1)" opacity="0.11"/>
</g>
<line x1="330.30" y1="409.80" x2="346.00" y2="409.80" stroke="#222" stroke-width="1.0"/>
</g>
<clipPath id="c44"><rect x="362.2" y="367.8" width="86.3" height="47.0"/></clipPath>
<g clip-path="url(#c44)"><g filter="url(#soft)">
<rect x="361.20" y="366.80" width="88.30" height="49.00" fill="#f2f4f8"/>
<path d="M362.2,370.6 C365.8,362.4 375.1,368.3 383.8,367.8 C392.4,367.3 406.8,365.4 414.0,367.8 C421.2,370.2 422.2,376.8 426.9,381.9 C431.7,387.0 439.3,392.5 442.5,398.4 C445.6,404.2 459.3,414.0 445.9,417.2 C432.5,420.3 376.2,424.9 362.2,417.2 C348.2,409.4 358.6,378.8 362.2,370.6Z" fill="#e0e4ec"/>
<clipPath id="tp37"><path d="M362.2,370.6 C365.8,362.4 375.1,368.3 383.8,367.8 C392.4,367.3 406.8,365.4 414.0,367.8 C421.2,370.2 422.2,376.8 426.9,381.9 C431.7,387.0 439.3,392.5 442.5,398.4 C445.6,404.2 459.3,414.0 445.9,417.2 C432.5,420.3 376.2,424.9 362.2,417.2 C348.2,409.4 358.6,378.8 362.2,370.6Z"/></clipPath>
<g clip-path="url(#tp37)">
<rect x="362.20" y="367.80" width="86.30" height="47.00" fill="#c8d0de" filter="url(#spk2)" opacity="0.6"/>
</g>
<path d="M388.1,367.8 C391.4,366.6 408.7,366.6 412.3,367.8 C415.8,369.0 413.0,373.7 409.7,374.9 C406.4,376.0 396.0,376.0 392.4,374.9 C388.8,373.7 384.8,369.0 388.1,367.8Z" fill="#ccd2e8" opacity="0.8"/>
<path d="M362.2,372.5 C361.9,371.6 366.2,369.1 369.1,368.7 C372.0,368.3 376.0,369.2 379.5,370.2 C382.9,371.1 389.1,373.2 389.8,374.4 C390.5,375.6 386.9,377.2 383.8,377.2 C380.6,377.2 374.4,375.2 370.8,374.4 C367.2,373.6 362.5,373.4 362.2,372.5Z" fill="#8cb6d2" opacity="0.9"/>
<path d="M430.0,407.3 C429.4,407.6 428.1,407.8 426.8,407.3 C425.5,406.8 423.4,405.3 422.1,404.3 C420.7,403.3 419.5,402.4 418.7,401.5 C418.0,400.5 417.2,399.1 417.7,398.8 C418.2,398.5 420.4,399.0 421.8,399.6 C423.3,400.2 425.2,401.4 426.5,402.4 C427.8,403.3 429.3,404.5 429.9,405.3 C430.4,406.1 430.5,406.9 430.0,407.3Z" fill="#c0d6e6" opacity="0.75" stroke="#7aa8cc" stroke-width="0.7"/>
<path d="M432.3,411.9 C431.8,412.1 430.8,412.0 429.9,411.8 C429.1,411.5 428.1,411.0 427.3,410.5 C426.4,410.0 425.1,409.1 424.9,408.6 C424.6,408.1 425.2,407.6 425.7,407.4 C426.2,407.2 427.2,407.1 428.1,407.4 C429.0,407.6 430.4,408.3 431.1,408.8 C431.9,409.4 432.5,410.2 432.7,410.7 C432.9,411.2 432.8,411.7 432.3,411.9Z" fill="#c0d6e6" opacity="0.75" stroke="#7aa8cc" stroke-width="0.7"/>
<path d="M443.9,404.5 C443.6,404.6 441.6,403.7 440.3,403.0 C438.9,402.4 437.3,401.6 436.0,400.7 C434.7,399.9 433.3,398.7 432.5,397.8 C431.7,396.9 430.7,395.8 431.0,395.6 C431.2,395.3 432.8,395.8 434.2,396.4 C435.6,397.0 438.0,398.3 439.3,399.3 C440.7,400.3 441.6,401.4 442.3,402.2 C443.1,403.1 444.2,404.3 443.9,404.5Z" fill="#c0d6e6" opacity="0.75" stroke="#7aa8cc" stroke-width="0.7"/>
<path d="M422.2,388.8 C421.7,389.1 421.0,389.5 420.0,389.1 C419.0,388.8 417.2,387.5 416.0,386.7 C414.8,385.9 413.5,384.9 412.9,384.2 C412.4,383.4 412.2,382.6 412.7,382.3 C413.1,382.0 414.5,382.1 415.7,382.6 C416.9,383.0 418.8,384.1 420.0,385.0 C421.2,385.8 422.5,387.0 422.9,387.7 C423.3,388.3 422.6,388.6 422.2,388.8Z" fill="#c0d6e6" opacity="0.75" stroke="#7aa8cc" stroke-width="0.7"/>
<path d="M403.0,387.6 C402.5,387.9 401.3,387.9 400.1,387.6 C399.0,387.4 397.1,386.7 396.2,386.0 C395.3,385.4 394.9,384.4 394.8,383.7 C394.6,383.1 394.7,382.5 395.2,382.2 C395.8,382.0 397.0,382.2 398.0,382.5 C399.0,382.7 400.4,383.3 401.2,383.9 C402.0,384.4 402.7,385.3 403.0,385.9 C403.3,386.5 403.5,387.3 403.0,387.6Z" fill="#c0d6e6" opacity="0.75" stroke="#7aa8cc" stroke-width="0.7"/>
<path d="M435.6,386.5 C435.3,386.7 434.2,386.6 433.1,386.1 C431.9,385.6 430.0,384.4 428.7,383.4 C427.4,382.5 425.8,381.3 425.2,380.6 C424.6,380.0 424.7,379.5 425.1,379.4 C425.5,379.3 426.6,379.5 427.7,380.0 C428.8,380.5 430.5,381.4 431.7,382.2 C432.9,383.0 434.2,384.1 434.8,384.9 C435.5,385.6 435.8,386.3 435.6,386.5Z" fill="#c0d6e6" opacity="0.75" stroke="#7aa8cc" stroke-width="0.7"/>
<path d="M427.6,384.1 C427.0,384.4 425.6,384.1 424.5,383.9 C423.5,383.7 422.3,383.3 421.5,382.8 C420.7,382.2 419.6,381.3 419.6,380.8 C419.5,380.2 420.4,379.9 421.1,379.6 C421.7,379.4 422.6,379.2 423.5,379.3 C424.4,379.5 425.7,380.0 426.5,380.6 C427.4,381.1 428.4,382.0 428.6,382.6 C428.8,383.2 428.3,383.9 427.6,384.1Z" fill="#c0d6e6" opacity="0.75" stroke="#7aa8cc" stroke-width="0.7"/>
<path d="M413.2,389.0 C412.7,389.2 411.3,389.1 409.8,388.6 C408.4,388.0 406.1,386.8 404.7,385.8 C403.2,384.8 401.8,383.5 401.2,382.6 C400.5,381.7 400.2,380.6 400.7,380.4 C401.3,380.2 403.0,380.5 404.4,381.1 C405.9,381.6 407.8,382.9 409.2,383.9 C410.7,384.9 412.6,386.2 413.2,387.1 C413.9,387.9 413.8,388.7 413.2,389.0Z" fill="#c0d6e6" opacity="0.75" stroke="#7aa8cc" stroke-width="0.7"/>
<path d="M415.5,414.5 C415.0,414.7 413.4,414.2 412.1,413.8 C410.9,413.4 409.1,412.9 408.0,412.1 C407.0,411.4 406.2,410.3 405.6,409.5 C405.1,408.7 404.3,407.4 404.8,407.2 C405.3,407.0 407.4,407.8 408.7,408.3 C410.0,408.8 411.8,409.3 412.9,410.0 C413.9,410.8 414.6,411.9 415.0,412.6 C415.4,413.4 415.9,414.3 415.5,414.5Z" fill="#c0d6e6" opacity="0.75" stroke="#7aa8cc" stroke-width="0.7"/>
<path d="M411.7,413.6 C411.0,413.8 410.1,414.1 408.9,413.7 C407.7,413.3 406.0,412.2 404.7,411.4 C403.3,410.5 401.4,409.2 400.8,408.4 C400.3,407.6 400.7,406.8 401.5,406.6 C402.2,406.5 403.9,406.9 405.2,407.4 C406.5,407.9 407.8,408.6 409.1,409.4 C410.5,410.2 412.6,411.7 413.0,412.4 C413.4,413.1 412.3,413.4 411.7,413.6Z" fill="#c0d6e6" opacity="0.75" stroke="#7aa8cc" stroke-width="0.7"/>
<path d="M416.8,385.4 C416.5,385.6 415.7,385.6 414.9,385.3 C414.1,385.0 412.9,384.3 412.0,383.7 C411.1,383.0 409.7,382.1 409.3,381.6 C409.0,381.1 409.6,380.9 410.0,380.7 C410.4,380.6 411.0,380.5 411.9,380.7 C412.7,381.0 414.3,381.7 415.2,382.3 C416.0,382.9 416.7,383.8 417.0,384.3 C417.3,384.8 417.2,385.2 416.8,385.4Z" fill="#c0d6e6" opacity="0.75" stroke="#7aa8cc" stroke-width="0.7"/>
<path d="M414.6,401.0 C414.1,401.2 412.5,400.7 411.5,400.4 C410.5,400.2 409.3,400.0 408.5,399.5 C407.8,399.0 407.3,398.2 407.1,397.6 C406.9,397.0 406.7,396.2 407.3,395.9 C407.8,395.7 409.2,396.0 410.3,396.3 C411.3,396.5 412.8,396.9 413.5,397.4 C414.2,397.9 414.2,398.6 414.4,399.3 C414.6,399.9 415.1,400.8 414.6,401.0Z" fill="#c0d6e6" opacity="0.75" stroke="#7aa8cc" stroke-width="0.7"/>
<path d="M418.5,392.3 C418.0,392.5 416.8,392.5 415.5,392.0 C414.1,391.4 411.9,390.0 410.4,389.0 C409.0,388.0 407.3,386.7 406.5,385.8 C405.7,384.9 405.3,383.8 405.8,383.6 C406.4,383.4 408.3,384.0 409.7,384.6 C411.2,385.2 413.2,386.2 414.6,387.2 C416.1,388.2 417.7,389.6 418.4,390.5 C419.0,391.3 419.0,392.0 418.5,392.3Z" fill="#c0d6e6" opacity="0.75" stroke="#7aa8cc" stroke-width="0.7"/>
<path d="M417.7,398.4 C417.3,398.5 415.3,397.6 414.0,397.0 C412.7,396.4 411.2,395.7 409.9,394.8 C408.7,394.0 407.4,392.8 406.6,392.0 C405.8,391.2 404.9,390.0 405.3,389.9 C405.7,389.7 407.6,390.5 408.8,391.1 C410.1,391.7 411.8,392.6 413.1,393.5 C414.4,394.4 415.8,395.6 416.6,396.4 C417.4,397.2 418.1,398.3 417.7,398.4Z" fill="#c0d6e6" opacity="0.75" stroke="#7aa8cc" stroke-width="0.7"/>
<clipPath id="tp38"><path d="M362.2,370.6 C365.8,362.4 375.1,368.3 383.8,367.8 C392.4,367.3 406.8,365.4 414.0,367.8 C421.2,370.2 422.2,376.8 426.9,381.9 C431.7,387.0 439.3,392.5 442.5,398.4 C445.6,404.2 459.3,414.0 445.9,417.2 C432.5,420.3 376.2,424.9 362.2,417.2 C348.2,409.4 358.6,378.8 362.2,370.6Z"/></clipPath>
<g clip-path="url(#tp38)">
<rect x="362.20" y="367.80" width="86.30" height="47.00" fill="#9cbcd4" filter="url(#net1)" opacity="0.25"/>
</g>
<rect x="362.20" y="367.80" width="86.30" height="47.00" fill="#f4f6fa" filter="url(#holes2)" opacity="0.5"/>
<rect x="362.60" y="400.60" width="26.40" height="14.20" fill="#eef2f6" stroke="#4a4e5a" stroke-width="0.9"/>
<path d="M370.8,404.5 C371.4,403.0 374.9,402.2 376.0,403.5 C377.2,404.9 378.3,411.0 377.7,412.4 C377.2,413.9 373.7,413.8 372.6,412.4 C371.4,411.1 370.3,405.9 370.8,404.5Z" fill="#9cc2dc" opacity="0.9" stroke="#5a90b8" stroke-width="0.7"/>
<path d="M381.2,403.5 C381.8,402.0 384.5,402.0 385.5,403.5 C386.5,405.0 387.8,411.0 387.2,412.4 C386.7,413.9 383.1,413.9 382.0,412.4 C381.0,411.0 380.6,405.0 381.2,403.5Z" fill="#9cc2dc" opacity="0.9" stroke="#5a90b8" stroke-width="0.7"/>
<rect x="414.5" y="382.4" width="16.7" height="12.1" fill="none" stroke="#b07050" stroke-width="0.6" stroke-dasharray="1.5,1.2"/>
</g>
<line x1="429.00" y1="410.40" x2="440.00" y2="410.40" stroke="#222" stroke-width="1.0"/>
</g>
</svg>
</body></html>
